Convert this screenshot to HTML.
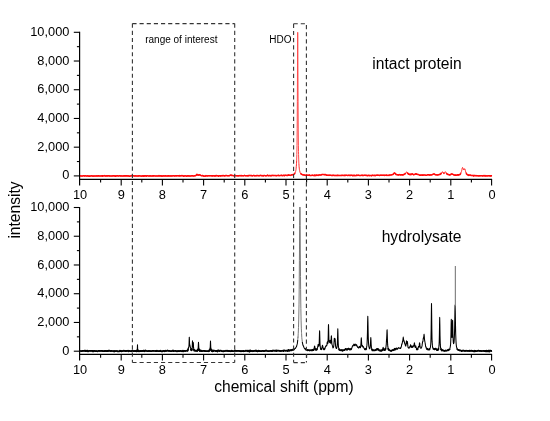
<!DOCTYPE html>
<html><head><meta charset="utf-8"><title>NMR spectra</title>
<style>
html,body{margin:0;padding:0;background:#fff;}
body{width:550px;height:421px;overflow:hidden;}
svg{display:block;}
text{font-family:"Liberation Sans",Arial,sans-serif;fill:#000;}
.tl{font-size:12.8px;}
.lb{font-size:15.6px;}
.sm{font-size:10px;}
.ax{stroke:#000;stroke-width:1.2;fill:none;}
.tk{stroke:#000;stroke-width:1.1;fill:none;}
.ds{stroke:#353535;stroke-width:1.1;stroke-dasharray:4.15 3.0;fill:none;}
.sp{fill:none;stroke-linejoin:round;}
</style></head>
<body>
<svg width="550" height="421" viewBox="0 0 550 421">
<rect width="550" height="421" fill="#fff"/>
<line x1="79.6" y1="31.80" x2="79.6" y2="185.40" class="ax"/>
<line x1="79.0" y1="179.30" x2="492.10" y2="179.30" class="ax"/>
<line x1="73.8" y1="175.90" x2="79.6" y2="175.90" class="tk"/>
<text x="69.4" y="179.45" class="tl" text-anchor="end">0</text>
<line x1="76.9" y1="161.54" x2="79.6" y2="161.54" class="tk"/>
<line x1="73.8" y1="147.18" x2="79.6" y2="147.18" class="tk"/>
<text x="69.4" y="150.73" class="tl" text-anchor="end">2,000</text>
<line x1="76.9" y1="132.82" x2="79.6" y2="132.82" class="tk"/>
<line x1="73.8" y1="118.46" x2="79.6" y2="118.46" class="tk"/>
<text x="69.4" y="122.01" class="tl" text-anchor="end">4,000</text>
<line x1="76.9" y1="104.10" x2="79.6" y2="104.10" class="tk"/>
<line x1="73.8" y1="89.74" x2="79.6" y2="89.74" class="tk"/>
<text x="69.4" y="93.29" class="tl" text-anchor="end">6,000</text>
<line x1="76.9" y1="75.38" x2="79.6" y2="75.38" class="tk"/>
<line x1="73.8" y1="61.02" x2="79.6" y2="61.02" class="tk"/>
<text x="69.4" y="64.57" class="tl" text-anchor="end">8,000</text>
<line x1="76.9" y1="46.66" x2="79.6" y2="46.66" class="tk"/>
<line x1="73.8" y1="32.30" x2="79.6" y2="32.30" class="tk"/>
<text x="69.4" y="35.85" class="tl" text-anchor="end">10,000</text>
<line x1="491.60" y1="179.30" x2="491.60" y2="185.40" class="tk"/>
<text x="492.00" y="199.30" class="tl" text-anchor="middle">0</text>
<line x1="471.40" y1="179.30" x2="471.40" y2="182.60" class="tk"/>
<line x1="450.80" y1="179.30" x2="450.80" y2="185.40" class="tk"/>
<text x="450.80" y="199.30" class="tl" text-anchor="middle">1</text>
<line x1="430.20" y1="179.30" x2="430.20" y2="182.60" class="tk"/>
<line x1="409.60" y1="179.30" x2="409.60" y2="185.40" class="tk"/>
<text x="409.60" y="199.30" class="tl" text-anchor="middle">2</text>
<line x1="389.00" y1="179.30" x2="389.00" y2="182.60" class="tk"/>
<line x1="368.40" y1="179.30" x2="368.40" y2="185.40" class="tk"/>
<text x="368.40" y="199.30" class="tl" text-anchor="middle">3</text>
<line x1="347.80" y1="179.30" x2="347.80" y2="182.60" class="tk"/>
<line x1="327.20" y1="179.30" x2="327.20" y2="185.40" class="tk"/>
<text x="327.20" y="199.30" class="tl" text-anchor="middle">4</text>
<line x1="306.60" y1="179.30" x2="306.60" y2="182.60" class="tk"/>
<line x1="286.00" y1="179.30" x2="286.00" y2="185.40" class="tk"/>
<text x="286.00" y="199.30" class="tl" text-anchor="middle">5</text>
<line x1="265.40" y1="179.30" x2="265.40" y2="182.60" class="tk"/>
<line x1="244.80" y1="179.30" x2="244.80" y2="185.40" class="tk"/>
<text x="244.80" y="199.30" class="tl" text-anchor="middle">6</text>
<line x1="224.20" y1="179.30" x2="224.20" y2="182.60" class="tk"/>
<line x1="203.60" y1="179.30" x2="203.60" y2="185.40" class="tk"/>
<text x="203.60" y="199.30" class="tl" text-anchor="middle">7</text>
<line x1="183.00" y1="179.30" x2="183.00" y2="182.60" class="tk"/>
<line x1="162.40" y1="179.30" x2="162.40" y2="185.40" class="tk"/>
<text x="162.40" y="199.30" class="tl" text-anchor="middle">8</text>
<line x1="141.80" y1="179.30" x2="141.80" y2="182.60" class="tk"/>
<line x1="121.20" y1="179.30" x2="121.20" y2="185.40" class="tk"/>
<text x="121.20" y="199.30" class="tl" text-anchor="middle">9</text>
<line x1="100.60" y1="179.30" x2="100.60" y2="182.60" class="tk"/>
<text x="80.00" y="199.30" class="tl" text-anchor="middle">10</text>
<line x1="79.6" y1="207.00" x2="79.6" y2="360.50" class="ax"/>
<line x1="79.0" y1="354.40" x2="492.10" y2="354.40" class="ax"/>
<line x1="73.8" y1="351.20" x2="79.6" y2="351.20" class="tk"/>
<text x="69.4" y="354.75" class="tl" text-anchor="end">0</text>
<line x1="76.9" y1="336.83" x2="79.6" y2="336.83" class="tk"/>
<line x1="73.8" y1="322.46" x2="79.6" y2="322.46" class="tk"/>
<text x="69.4" y="326.01" class="tl" text-anchor="end">2,000</text>
<line x1="76.9" y1="308.09" x2="79.6" y2="308.09" class="tk"/>
<line x1="73.8" y1="293.72" x2="79.6" y2="293.72" class="tk"/>
<text x="69.4" y="297.27" class="tl" text-anchor="end">4,000</text>
<line x1="76.9" y1="279.35" x2="79.6" y2="279.35" class="tk"/>
<line x1="73.8" y1="264.98" x2="79.6" y2="264.98" class="tk"/>
<text x="69.4" y="268.53" class="tl" text-anchor="end">6,000</text>
<line x1="76.9" y1="250.61" x2="79.6" y2="250.61" class="tk"/>
<line x1="73.8" y1="236.24" x2="79.6" y2="236.24" class="tk"/>
<text x="69.4" y="239.79" class="tl" text-anchor="end">8,000</text>
<line x1="76.9" y1="221.87" x2="79.6" y2="221.87" class="tk"/>
<line x1="73.8" y1="207.50" x2="79.6" y2="207.50" class="tk"/>
<text x="69.4" y="211.05" class="tl" text-anchor="end">10,000</text>
<line x1="491.60" y1="354.40" x2="491.60" y2="360.50" class="tk"/>
<text x="492.00" y="374.40" class="tl" text-anchor="middle">0</text>
<line x1="471.40" y1="354.40" x2="471.40" y2="357.70" class="tk"/>
<line x1="450.80" y1="354.40" x2="450.80" y2="360.50" class="tk"/>
<text x="450.80" y="374.40" class="tl" text-anchor="middle">1</text>
<line x1="430.20" y1="354.40" x2="430.20" y2="357.70" class="tk"/>
<line x1="409.60" y1="354.40" x2="409.60" y2="360.50" class="tk"/>
<text x="409.60" y="374.40" class="tl" text-anchor="middle">2</text>
<line x1="389.00" y1="354.40" x2="389.00" y2="357.70" class="tk"/>
<line x1="368.40" y1="354.40" x2="368.40" y2="360.50" class="tk"/>
<text x="368.40" y="374.40" class="tl" text-anchor="middle">3</text>
<line x1="347.80" y1="354.40" x2="347.80" y2="357.70" class="tk"/>
<line x1="327.20" y1="354.40" x2="327.20" y2="360.50" class="tk"/>
<text x="327.20" y="374.40" class="tl" text-anchor="middle">4</text>
<line x1="306.60" y1="354.40" x2="306.60" y2="357.70" class="tk"/>
<line x1="286.00" y1="354.40" x2="286.00" y2="360.50" class="tk"/>
<text x="286.00" y="374.40" class="tl" text-anchor="middle">5</text>
<line x1="265.40" y1="354.40" x2="265.40" y2="357.70" class="tk"/>
<line x1="244.80" y1="354.40" x2="244.80" y2="360.50" class="tk"/>
<text x="244.80" y="374.40" class="tl" text-anchor="middle">6</text>
<line x1="224.20" y1="354.40" x2="224.20" y2="357.70" class="tk"/>
<line x1="203.60" y1="354.40" x2="203.60" y2="360.50" class="tk"/>
<text x="203.60" y="374.40" class="tl" text-anchor="middle">7</text>
<line x1="183.00" y1="354.40" x2="183.00" y2="357.70" class="tk"/>
<line x1="162.40" y1="354.40" x2="162.40" y2="360.50" class="tk"/>
<text x="162.40" y="374.40" class="tl" text-anchor="middle">8</text>
<line x1="141.80" y1="354.40" x2="141.80" y2="357.70" class="tk"/>
<line x1="121.20" y1="354.40" x2="121.20" y2="360.50" class="tk"/>
<text x="121.20" y="374.40" class="tl" text-anchor="middle">9</text>
<line x1="100.60" y1="354.40" x2="100.60" y2="357.70" class="tk"/>
<text x="80.00" y="374.40" class="tl" text-anchor="middle">10</text>
<path class="sp" stroke="#ff0000" stroke-width="1.5" d="M80.00,175.90 L80.50,175.85 L81.00,175.94 L81.50,176.04 L82.00,175.97 L82.50,176.06 L83.00,175.89 L83.50,175.68 L84.00,175.98 L84.50,176.00 L85.00,175.82 L85.50,175.84 L86.00,175.88 L86.50,176.05 L87.00,175.90 L87.50,175.79 L88.00,176.11 L88.50,175.97 L89.00,176.20 L89.50,176.11 L90.00,176.19 L90.50,175.94 L91.00,176.10 L91.50,175.86 L92.00,175.87 L92.50,175.93 L93.00,176.30 L93.50,175.98 L94.00,175.91 L94.50,175.88 L95.00,176.14 L95.50,175.98 L96.00,176.06 L96.50,176.03 L97.00,175.73 L97.50,176.03 L98.00,175.90 L98.50,175.76 L99.00,175.99 L99.50,175.92 L100.00,175.88 L100.50,175.89 L101.00,176.09 L101.50,175.89 L102.00,175.68 L102.50,176.15 L103.00,175.76 L103.50,175.88 L104.00,176.00 L104.50,175.58 L105.00,175.78 L105.50,176.09 L106.00,175.89 L106.50,175.81 L107.00,175.93 L107.50,175.79 L108.00,175.91 L108.50,175.79 L109.00,175.67 L109.50,176.01 L110.00,175.87 L110.50,175.97 L111.00,175.88 L111.50,176.09 L112.00,175.99 L112.50,175.93 L113.00,175.75 L113.50,175.71 L114.00,176.11 L114.50,176.03 L115.00,175.79 L115.50,176.22 L116.00,175.97 L116.50,175.91 L117.00,175.70 L117.50,175.79 L118.00,175.95 L118.50,175.96 L119.00,175.94 L119.50,175.65 L120.00,175.97 L120.50,175.95 L121.00,175.84 L121.50,175.92 L122.00,175.93 L122.50,176.08 L123.00,175.90 L123.50,175.97 L124.00,175.71 L124.50,175.79 L125.00,175.90 L125.50,175.79 L126.00,175.95 L126.50,175.73 L127.00,175.90 L127.50,175.80 L128.00,176.10 L128.50,175.84 L129.00,176.17 L129.50,176.22 L130.00,175.95 L130.50,176.04 L131.00,175.87 L131.50,175.54 L132.00,176.03 L132.50,176.00 L133.00,175.86 L133.50,175.82 L134.00,175.92 L134.50,175.93 L135.00,175.78 L135.50,175.81 L136.00,176.06 L136.50,175.91 L137.00,175.89 L137.50,176.06 L138.00,175.85 L138.50,176.03 L139.00,175.74 L139.50,175.86 L140.00,175.88 L140.50,175.99 L141.00,175.91 L141.50,176.21 L142.00,176.08 L142.50,175.84 L143.00,176.23 L143.50,175.76 L144.00,176.17 L144.50,175.77 L145.00,176.03 L145.50,175.77 L146.00,175.87 L146.50,176.14 L147.00,175.69 L147.50,175.66 L148.00,175.90 L148.50,175.94 L149.00,175.92 L149.50,176.05 L150.00,175.72 L150.50,175.98 L151.00,175.90 L151.50,176.02 L152.00,175.99 L152.50,176.10 L153.00,175.69 L153.50,175.92 L154.00,175.74 L154.50,175.89 L155.00,176.00 L155.50,175.94 L156.00,175.98 L156.50,175.89 L157.00,175.95 L157.50,175.94 L158.00,176.11 L158.50,176.02 L159.00,175.62 L159.50,176.00 L160.00,176.06 L160.50,175.83 L161.00,175.66 L161.50,176.12 L162.00,175.92 L162.50,175.99 L163.00,176.17 L163.50,175.77 L164.00,175.89 L164.50,175.87 L165.00,176.01 L165.50,175.81 L166.00,175.97 L166.50,175.91 L167.00,176.06 L167.50,176.08 L168.00,175.67 L168.50,175.96 L169.00,175.84 L169.50,175.89 L170.00,175.95 L170.50,175.96 L171.00,175.78 L171.50,175.93 L172.00,175.90 L172.50,175.88 L173.00,175.69 L173.50,175.77 L174.00,175.82 L174.50,175.97 L175.00,176.10 L175.50,175.72 L176.00,175.72 L176.50,175.90 L177.00,175.79 L177.50,175.75 L178.00,175.74 L178.50,175.73 L179.00,175.95 L179.50,175.63 L180.00,176.07 L180.50,175.73 L181.00,175.79 L181.50,175.73 L182.00,175.57 L182.50,175.63 L183.00,176.05 L183.50,176.14 L184.00,175.73 L184.50,176.03 L185.00,175.86 L185.50,175.73 L186.00,176.12 L186.50,176.20 L187.00,175.81 L187.50,175.85 L188.00,175.89 L188.50,175.84 L189.00,175.99 L189.50,176.09 L190.00,175.87 L190.50,175.99 L191.00,176.10 L191.50,175.75 L192.00,175.83 L192.50,175.75 L193.00,175.96 L193.50,175.89 L194.00,175.92 L194.50,175.86 L195.00,175.63 L195.50,175.68 L196.00,175.29 L196.50,174.90 L197.00,174.28 L197.50,175.09 L198.00,175.01 L198.50,175.17 L199.00,174.87 L199.50,174.83 L200.00,175.02 L200.50,175.23 L201.00,175.56 L201.50,175.64 L202.00,175.76 L202.50,175.56 L203.00,175.77 L203.50,176.13 L204.00,175.90 L204.50,176.11 L205.00,176.32 L205.50,175.89 L206.00,175.60 L206.50,175.81 L207.00,176.00 L207.50,175.97 L208.00,175.64 L208.50,175.79 L209.00,175.81 L209.50,175.83 L210.00,175.81 L210.50,175.69 L211.00,175.73 L211.50,175.78 L212.00,175.98 L212.50,175.73 L213.00,175.92 L213.50,175.64 L214.00,176.02 L214.50,175.83 L215.00,175.81 L215.50,176.02 L216.00,175.53 L216.50,175.57 L217.00,175.88 L217.50,175.68 L218.00,175.74 L218.50,176.22 L219.00,175.76 L219.50,175.81 L220.00,175.78 L220.50,175.97 L221.00,175.84 L221.50,175.82 L222.00,175.60 L222.50,175.73 L223.00,175.79 L223.50,175.54 L224.00,175.87 L224.50,175.84 L225.00,176.07 L225.50,175.52 L226.00,175.62 L226.50,175.62 L227.00,175.65 L227.50,175.73 L228.00,175.71 L228.50,175.77 L229.00,175.73 L229.50,175.64 L230.00,175.30 L230.50,175.17 L231.00,174.91 L231.50,175.35 L232.00,175.63 L232.50,175.38 L233.00,175.60 L233.50,175.70 L234.00,175.78 L234.50,175.90 L235.00,175.74 L235.50,175.59 L236.00,175.80 L236.50,175.77 L237.00,175.77 L237.50,175.71 L238.00,175.99 L238.50,175.77 L239.00,175.87 L239.50,175.59 L240.00,175.85 L240.50,175.63 L241.00,175.48 L241.50,175.77 L242.00,175.81 L242.50,175.69 L243.00,175.71 L243.50,175.87 L244.00,175.64 L244.50,175.39 L245.00,175.75 L245.50,175.74 L246.00,175.87 L246.50,175.65 L247.00,175.90 L247.50,175.87 L248.00,175.49 L248.50,175.83 L249.00,175.51 L249.50,175.44 L250.00,175.64 L250.50,175.59 L251.00,175.37 L251.50,175.71 L252.00,175.77 L252.50,175.89 L253.00,175.66 L253.50,175.43 L254.00,175.51 L254.50,175.81 L255.00,175.79 L255.50,175.74 L256.00,175.61 L256.50,175.68 L257.00,175.61 L257.50,175.60 L258.00,175.69 L258.50,175.65 L259.00,175.60 L259.50,175.65 L260.00,175.55 L260.50,175.33 L261.00,175.53 L261.50,175.61 L262.00,175.89 L262.50,175.55 L263.00,175.92 L263.50,175.84 L264.00,175.47 L264.50,175.49 L265.00,175.62 L265.50,175.87 L266.00,175.65 L266.50,175.70 L267.00,175.49 L267.50,175.22 L268.00,175.55 L268.50,175.70 L269.00,175.76 L269.50,175.58 L270.00,175.60 L270.50,175.75 L271.00,175.54 L271.50,175.74 L272.00,175.38 L272.50,175.38 L273.00,175.37 L273.50,175.62 L274.00,175.46 L274.50,175.56 L275.00,175.59 L275.50,175.58 L276.00,175.73 L276.50,175.75 L277.00,175.39 L277.50,175.54 L278.00,175.47 L278.50,175.34 L279.00,175.77 L279.50,175.61 L280.00,175.45 L280.50,175.41 L281.00,175.53 L281.50,175.30 L282.00,175.42 L282.50,175.64 L283.00,175.59 L283.50,175.30 L284.00,175.35 L284.50,175.72 L285.00,175.19 L285.50,175.29 L286.00,175.16 L286.50,175.42 L287.00,175.39 L287.50,175.51 L288.00,174.90 L288.50,175.31 L289.00,175.00 L289.50,175.32 L290.00,175.15 L290.50,175.40 L291.00,175.14 L291.50,174.85 L292.00,175.11 L292.50,174.63 L293.00,174.59 L293.50,174.60 L294.00,174.21 L294.50,173.75 L295.00,172.97 M300.50,173.29 L301.00,173.87 L301.50,174.34 L302.00,174.38 L302.50,174.76 L303.00,174.89 L303.50,174.79 L304.00,175.08 L304.50,174.95 L305.00,175.23 L305.50,175.31 L306.00,175.44 L306.50,174.88 L307.00,175.25 L307.50,175.17 L308.00,175.23 L308.50,175.22 L309.00,175.24 L309.50,174.95 L310.00,175.43 L310.50,175.52 L311.00,175.44 L311.50,175.49 L312.00,175.16 L312.50,175.15 L313.00,175.43 L313.50,175.50 L314.00,175.33 L314.50,175.05 L315.00,175.72 L315.50,175.17 L316.00,175.42 L316.50,175.07 L317.00,175.39 L317.50,175.24 L318.00,175.41 L318.50,175.29 L319.00,174.87 L319.50,174.91 L320.00,175.03 L320.50,175.02 L321.00,175.08 L321.50,174.72 L322.00,174.54 L322.50,174.45 L323.00,174.42 L323.50,174.62 L324.00,174.55 L324.50,174.66 L325.00,174.57 L325.50,174.59 L326.00,175.00 L326.50,175.17 L327.00,175.11 L327.50,175.24 L328.00,175.30 L328.50,175.22 L329.00,175.40 L329.50,175.15 L330.00,175.28 L330.50,175.24 L331.00,175.32 L331.50,175.42 L332.00,175.46 L332.50,175.35 L333.00,175.41 L333.50,175.29 L334.00,175.33 L334.50,175.56 L335.00,175.33 L335.50,175.56 L336.00,175.45 L336.50,175.40 L337.00,175.69 L337.50,175.34 L338.00,175.34 L338.50,175.39 L339.00,175.43 L339.50,175.43 L340.00,175.52 L340.50,175.41 L341.00,175.46 L341.50,175.36 L342.00,175.57 L342.50,175.34 L343.00,175.35 L343.50,175.40 L344.00,175.45 L344.50,175.29 L345.00,175.65 L345.50,175.31 L346.00,175.35 L346.50,175.34 L347.00,175.33 L347.50,175.49 L348.00,175.43 L348.50,175.29 L349.00,175.32 L349.50,175.36 L350.00,175.64 L350.50,175.31 L351.00,175.21 L351.50,175.23 L352.00,175.36 L352.50,175.65 L353.00,175.25 L353.50,175.42 L354.00,175.81 L354.50,175.34 L355.00,175.64 L355.50,175.61 L356.00,175.50 L356.50,175.20 L357.00,175.46 L357.50,175.36 L358.00,175.13 L358.50,175.15 L359.00,175.42 L359.50,175.44 L360.00,175.61 L360.50,175.52 L361.00,175.34 L361.50,175.34 L362.00,175.39 L362.50,175.25 L363.00,175.53 L363.50,175.42 L364.00,175.29 L364.50,175.31 L365.00,175.23 L365.50,175.34 L366.00,175.45 L366.50,175.35 L367.00,175.56 L367.50,175.67 L368.00,175.31 L368.50,175.41 L369.00,175.35 L369.50,175.67 L370.00,175.46 L370.50,175.49 L371.00,175.53 L371.50,175.75 L372.00,175.44 L372.50,175.25 L373.00,175.33 L373.50,175.48 L374.00,175.39 L374.50,175.26 L375.00,175.82 L375.50,175.40 L376.00,175.29 L376.50,175.26 L377.00,175.10 L377.50,175.18 L378.00,175.31 L378.50,175.31 L379.00,175.23 L379.50,175.44 L380.00,175.35 L380.50,175.20 L381.00,175.02 L381.50,175.36 L382.00,175.33 L382.50,175.29 L383.00,175.10 L383.50,175.31 L384.00,175.07 L384.50,175.45 L385.00,175.32 L385.50,175.31 L386.00,175.14 L386.50,175.09 L387.00,175.49 L387.50,175.38 L388.00,175.16 L388.50,175.31 L389.00,175.42 L389.50,174.99 L390.00,175.04 L390.50,175.00 L391.00,175.09 L391.50,174.77 L392.00,174.85 L392.50,174.45 L393.00,174.48 L393.50,174.00 L394.00,173.22 L394.50,173.01 L395.00,173.13 L395.50,173.79 L396.00,174.43 L396.50,174.55 L397.00,174.79 L397.50,174.69 L398.00,175.00 L398.50,175.01 L399.00,174.77 L399.50,174.61 L400.00,174.65 L400.50,174.96 L401.00,174.92 L401.50,174.68 L401.90,174.92 L402.00,175.05 L402.28,174.85 L402.50,174.77 L402.67,174.95 L403.00,175.03 L403.05,174.99 L403.43,174.57 L403.50,174.78 L403.82,174.59 L404.00,174.47 L404.20,174.32 L404.50,174.31 L404.58,174.12 L404.97,174.03 L405.00,173.91 L405.35,173.60 L405.50,173.03 M407.27,172.97 L407.50,173.24 L407.65,172.98 L408.00,173.64 L408.03,173.84 L408.42,174.01 L408.50,173.84 L408.80,174.35 L409.00,174.44 L409.18,174.24 L409.50,174.42 L409.57,174.40 L409.95,174.61 L410.00,174.23 L410.33,174.24 L410.50,174.40 L410.72,174.34 L411.00,174.67 L411.10,174.20 L411.50,174.11 L412.00,173.83 L412.50,173.97 L413.00,174.40 L413.50,174.74 L414.00,174.43 L414.50,174.51 L415.00,174.23 L415.50,173.97 L416.00,173.75 L416.50,174.28 L417.00,174.06 L417.50,174.48 L418.00,174.51 L418.50,174.48 L419.00,174.86 L419.50,175.20 L420.00,175.09 L420.50,175.17 L421.00,175.07 L421.50,174.99 L422.00,175.34 L422.50,174.97 L423.00,175.28 L423.50,175.00 L424.00,175.07 L424.50,175.10 L425.00,175.07 L425.50,175.15 L426.00,175.16 L426.50,175.33 L427.00,175.07 L427.50,174.77 L428.00,174.74 L428.50,174.84 L429.00,174.93 L429.50,175.14 L430.00,174.77 L430.50,174.98 L431.00,174.93 L431.50,174.88 L432.00,174.68 L432.50,174.54 L433.00,174.16 L433.50,174.08 L434.00,174.08 L434.50,173.97 L435.00,174.61 L435.50,174.79 L436.00,174.76 L436.50,174.78 L437.00,175.09 L437.50,174.94 L438.00,174.73 L438.50,174.79 L439.00,174.73 L439.50,174.37 L440.00,174.53 L440.50,174.10 L440.90,173.82 L441.00,173.38 L441.28,173.56 L441.50,173.03 M443.58,173.12 L443.97,173.37 L444.00,173.09 L444.35,173.11 M446.27,172.98 L446.50,173.43 L446.65,173.40 L447.00,174.00 L447.03,174.25 L447.42,174.15 L447.50,174.33 L447.80,174.42 L448.00,174.55 L448.18,174.53 L448.50,174.70 L448.57,174.53 L448.95,174.71 L449.00,174.72 L449.33,174.73 L449.50,175.03 L449.72,174.80 L450.00,174.78 L450.10,174.68 L450.50,174.80 L451.00,174.04 L451.50,173.90 L452.00,173.89 L452.50,174.22 L453.00,174.42 L453.50,174.72 L454.00,175.02 L454.50,175.01 L455.00,175.20 L455.50,175.05 L456.00,175.26 L456.50,175.15 L457.00,174.96 L457.50,174.67 L458.00,175.17 L458.20,175.05 L458.50,175.05 L458.56,174.77 L458.92,174.98 L459.00,174.84 L459.27,174.66 L459.50,174.70 L459.63,174.62 L459.99,174.29 L460.00,174.55 L460.35,174.09 L460.40,173.87 L460.50,173.65 L460.71,173.39 L460.76,173.56 M466.00,172.98 L466.08,173.04 L466.13,173.06 L466.44,173.56 L466.49,173.82 L466.50,173.71 L466.80,174.18 L466.85,174.17 L467.00,174.35 L467.21,174.68 L467.50,174.69 L467.57,174.59 L467.93,175.06 L468.00,174.97 L468.28,174.93 L468.50,175.27 L468.64,175.11 L469.00,175.40 L469.50,175.14 L470.00,175.02 L470.50,175.13 L471.00,175.53 L471.50,175.42 L472.00,175.55 L472.50,175.58 L473.00,175.37 L473.50,175.85 L474.00,175.49 L474.50,175.68 L475.00,175.46 L475.50,175.67 L476.00,175.82 L476.50,175.68 L477.00,175.61 L477.50,175.74 L478.00,175.67 L478.50,175.84 L479.00,176.10 L479.50,175.63 L480.00,175.66 L480.50,175.76 L481.00,175.78 L481.50,175.63 L482.00,175.87 L482.50,175.91 L483.00,175.83 L483.50,175.62 L484.00,176.03 L484.50,175.62 L485.00,175.92 L485.50,176.00 L486.00,175.62 L486.50,175.84 L487.00,176.04 L487.50,175.89 L488.00,175.69 L488.50,175.65 L489.00,175.91 L489.50,175.78 L490.00,175.73 L490.50,175.95 L491.00,175.79 L491.50,175.85 L492.00,175.94"/>
<polyline class="sp" stroke="#ff1010" stroke-width="0.9" points="80.00,175.90 80.50,175.85 81.00,175.94 81.50,176.04 82.00,175.97 82.50,176.06 83.00,175.89 83.50,175.68 84.00,175.98 84.50,176.00 85.00,175.82 85.50,175.84 86.00,175.88 86.50,176.05 87.00,175.90 87.50,175.79 88.00,176.11 88.50,175.97 89.00,176.20 89.50,176.11 90.00,176.19 90.50,175.94 91.00,176.10 91.50,175.86 92.00,175.87 92.50,175.93 93.00,176.30 93.50,175.98 94.00,175.91 94.50,175.88 95.00,176.14 95.50,175.98 96.00,176.06 96.50,176.03 97.00,175.73 97.50,176.03 98.00,175.90 98.50,175.76 99.00,175.99 99.50,175.92 100.00,175.88 100.50,175.89 101.00,176.09 101.50,175.89 102.00,175.68 102.50,176.15 103.00,175.76 103.50,175.88 104.00,176.00 104.50,175.58 105.00,175.78 105.50,176.09 106.00,175.89 106.50,175.81 107.00,175.93 107.50,175.79 108.00,175.91 108.50,175.79 109.00,175.67 109.50,176.01 110.00,175.87 110.50,175.97 111.00,175.88 111.50,176.09 112.00,175.99 112.50,175.93 113.00,175.75 113.50,175.71 114.00,176.11 114.50,176.03 115.00,175.79 115.50,176.22 116.00,175.97 116.50,175.91 117.00,175.70 117.50,175.79 118.00,175.95 118.50,175.96 119.00,175.94 119.50,175.65 120.00,175.97 120.50,175.95 121.00,175.84 121.50,175.92 122.00,175.93 122.50,176.08 123.00,175.90 123.50,175.97 124.00,175.71 124.50,175.79 125.00,175.90 125.50,175.79 126.00,175.95 126.50,175.73 127.00,175.90 127.50,175.80 128.00,176.10 128.50,175.84 129.00,176.17 129.50,176.22 130.00,175.95 130.50,176.04 131.00,175.87 131.50,175.54 132.00,176.03 132.50,176.00 133.00,175.86 133.50,175.82 134.00,175.92 134.50,175.93 135.00,175.78 135.50,175.81 136.00,176.06 136.50,175.91 137.00,175.89 137.50,176.06 138.00,175.85 138.50,176.03 139.00,175.74 139.50,175.86 140.00,175.88 140.50,175.99 141.00,175.91 141.50,176.21 142.00,176.08 142.50,175.84 143.00,176.23 143.50,175.76 144.00,176.17 144.50,175.77 145.00,176.03 145.50,175.77 146.00,175.87 146.50,176.14 147.00,175.69 147.50,175.66 148.00,175.90 148.50,175.94 149.00,175.92 149.50,176.05 150.00,175.72 150.50,175.98 151.00,175.90 151.50,176.02 152.00,175.99 152.50,176.10 153.00,175.69 153.50,175.92 154.00,175.74 154.50,175.89 155.00,176.00 155.50,175.94 156.00,175.98 156.50,175.89 157.00,175.95 157.50,175.94 158.00,176.11 158.50,176.02 159.00,175.62 159.50,176.00 160.00,176.06 160.50,175.83 161.00,175.66 161.50,176.12 162.00,175.92 162.50,175.99 163.00,176.17 163.50,175.77 164.00,175.89 164.50,175.87 165.00,176.01 165.50,175.81 166.00,175.97 166.50,175.91 167.00,176.06 167.50,176.08 168.00,175.67 168.50,175.96 169.00,175.84 169.50,175.89 170.00,175.95 170.50,175.96 171.00,175.78 171.50,175.93 172.00,175.90 172.50,175.88 173.00,175.69 173.50,175.77 174.00,175.82 174.50,175.97 175.00,176.10 175.50,175.72 176.00,175.72 176.50,175.90 177.00,175.79 177.50,175.75 178.00,175.74 178.50,175.73 179.00,175.95 179.50,175.63 180.00,176.07 180.50,175.73 181.00,175.79 181.50,175.73 182.00,175.57 182.50,175.63 183.00,176.05 183.50,176.14 184.00,175.73 184.50,176.03 185.00,175.86 185.50,175.73 186.00,176.12 186.50,176.20 187.00,175.81 187.50,175.85 188.00,175.89 188.50,175.84 189.00,175.99 189.50,176.09 190.00,175.87 190.50,175.99 191.00,176.10 191.50,175.75 192.00,175.83 192.50,175.75 193.00,175.96 193.50,175.89 194.00,175.92 194.50,175.86 195.00,175.63 195.50,175.68 196.00,175.29 196.50,174.90 197.00,174.28 197.50,175.09 198.00,175.01 198.50,175.17 199.00,174.87 199.50,174.83 200.00,175.02 200.50,175.23 201.00,175.56 201.50,175.64 202.00,175.76 202.50,175.56 203.00,175.77 203.50,176.13 204.00,175.90 204.50,176.11 205.00,176.32 205.50,175.89 206.00,175.60 206.50,175.81 207.00,176.00 207.50,175.97 208.00,175.64 208.50,175.79 209.00,175.81 209.50,175.83 210.00,175.81 210.50,175.69 211.00,175.73 211.50,175.78 212.00,175.98 212.50,175.73 213.00,175.92 213.50,175.64 214.00,176.02 214.50,175.83 215.00,175.81 215.50,176.02 216.00,175.53 216.50,175.57 217.00,175.88 217.50,175.68 218.00,175.74 218.50,176.22 219.00,175.76 219.50,175.81 220.00,175.78 220.50,175.97 221.00,175.84 221.50,175.82 222.00,175.60 222.50,175.73 223.00,175.79 223.50,175.54 224.00,175.87 224.50,175.84 225.00,176.07 225.50,175.52 226.00,175.62 226.50,175.62 227.00,175.65 227.50,175.73 228.00,175.71 228.50,175.77 229.00,175.73 229.50,175.64 230.00,175.30 230.50,175.17 231.00,174.91 231.50,175.35 232.00,175.63 232.50,175.38 233.00,175.60 233.50,175.70 234.00,175.78 234.50,175.90 235.00,175.74 235.50,175.59 236.00,175.80 236.50,175.77 237.00,175.77 237.50,175.71 238.00,175.99 238.50,175.77 239.00,175.87 239.50,175.59 240.00,175.85 240.50,175.63 241.00,175.48 241.50,175.77 242.00,175.81 242.50,175.69 243.00,175.71 243.50,175.87 244.00,175.64 244.50,175.39 245.00,175.75 245.50,175.74 246.00,175.87 246.50,175.65 247.00,175.90 247.50,175.87 248.00,175.49 248.50,175.83 249.00,175.51 249.50,175.44 250.00,175.64 250.50,175.59 251.00,175.37 251.50,175.71 252.00,175.77 252.50,175.89 253.00,175.66 253.50,175.43 254.00,175.51 254.50,175.81 255.00,175.79 255.50,175.74 256.00,175.61 256.50,175.68 257.00,175.61 257.50,175.60 258.00,175.69 258.50,175.65 259.00,175.60 259.50,175.65 260.00,175.55 260.50,175.33 261.00,175.53 261.50,175.61 262.00,175.89 262.50,175.55 263.00,175.92 263.50,175.84 264.00,175.47 264.50,175.49 265.00,175.62 265.50,175.87 266.00,175.65 266.50,175.70 267.00,175.49 267.50,175.22 268.00,175.55 268.50,175.70 269.00,175.76 269.50,175.58 270.00,175.60 270.50,175.75 271.00,175.54 271.50,175.74 272.00,175.38 272.50,175.38 273.00,175.37 273.50,175.62 274.00,175.46 274.50,175.56 275.00,175.59 275.50,175.58 276.00,175.73 276.50,175.75 277.00,175.39 277.50,175.54 278.00,175.47 278.50,175.34 279.00,175.77 279.50,175.61 280.00,175.45 280.50,175.41 281.00,175.53 281.50,175.30 282.00,175.42 282.50,175.64 283.00,175.59 283.50,175.30 284.00,175.35 284.50,175.72 285.00,175.19 285.50,175.29 286.00,175.16 286.50,175.42 287.00,175.39 287.50,175.51 288.00,174.90 288.50,175.31 289.00,175.00 289.50,175.32 290.00,175.15 290.50,175.40 291.00,175.14 291.50,174.85 292.00,175.11 292.50,174.63 293.00,174.59 293.50,174.60 294.00,174.21 294.50,173.75 295.00,172.97 295.50,171.82 295.62,171.43 295.79,170.58 295.97,169.70 296.00,169.52 296.14,168.23 296.31,166.28 296.49,164.11 296.50,163.63 296.66,160.24"/>
<polyline class="sp" stroke="#ff1010" stroke-width="0.9" points="298.91,164.00 299.00,165.25 299.09,166.68 299.26,168.10 299.43,169.69 299.50,170.23 299.61,170.53 299.78,171.10 300.00,172.26 300.50,173.29 301.00,173.87 301.50,174.34 302.00,174.38 302.50,174.76 303.00,174.89 303.50,174.79 304.00,175.08 304.50,174.95 305.00,175.23 305.50,175.31 306.00,175.44 306.50,174.88 307.00,175.25 307.50,175.17 308.00,175.23 308.50,175.22 309.00,175.24 309.50,174.95 310.00,175.43 310.50,175.52 311.00,175.44 311.50,175.49 312.00,175.16 312.50,175.15 313.00,175.43 313.50,175.50 314.00,175.33 314.50,175.05 315.00,175.72 315.50,175.17 316.00,175.42 316.50,175.07 317.00,175.39 317.50,175.24 318.00,175.41 318.50,175.29 319.00,174.87 319.50,174.91 320.00,175.03 320.50,175.02 321.00,175.08 321.50,174.72 322.00,174.54 322.50,174.45 323.00,174.42 323.50,174.62 324.00,174.55 324.50,174.66 325.00,174.57 325.50,174.59 326.00,175.00 326.50,175.17 327.00,175.11 327.50,175.24 328.00,175.30 328.50,175.22 329.00,175.40 329.50,175.15 330.00,175.28 330.50,175.24 331.00,175.32 331.50,175.42 332.00,175.46 332.50,175.35 333.00,175.41 333.50,175.29 334.00,175.33 334.50,175.56 335.00,175.33 335.50,175.56 336.00,175.45 336.50,175.40 337.00,175.69 337.50,175.34 338.00,175.34 338.50,175.39 339.00,175.43 339.50,175.43 340.00,175.52 340.50,175.41 341.00,175.46 341.50,175.36 342.00,175.57 342.50,175.34 343.00,175.35 343.50,175.40 344.00,175.45 344.50,175.29 345.00,175.65 345.50,175.31 346.00,175.35 346.50,175.34 347.00,175.33 347.50,175.49 348.00,175.43 348.50,175.29 349.00,175.32 349.50,175.36 350.00,175.64 350.50,175.31 351.00,175.21 351.50,175.23 352.00,175.36 352.50,175.65 353.00,175.25 353.50,175.42 354.00,175.81 354.50,175.34 355.00,175.64 355.50,175.61 356.00,175.50 356.50,175.20 357.00,175.46 357.50,175.36 358.00,175.13 358.50,175.15 359.00,175.42 359.50,175.44 360.00,175.61 360.50,175.52 361.00,175.34 361.50,175.34 362.00,175.39 362.50,175.25 363.00,175.53 363.50,175.42 364.00,175.29 364.50,175.31 365.00,175.23 365.50,175.34 366.00,175.45 366.50,175.35 367.00,175.56 367.50,175.67 368.00,175.31 368.50,175.41 369.00,175.35 369.50,175.67 370.00,175.46 370.50,175.49 371.00,175.53 371.50,175.75 372.00,175.44 372.50,175.25 373.00,175.33 373.50,175.48 374.00,175.39 374.50,175.26 375.00,175.82 375.50,175.40 376.00,175.29 376.50,175.26 377.00,175.10 377.50,175.18 378.00,175.31 378.50,175.31 379.00,175.23 379.50,175.44 380.00,175.35 380.50,175.20 381.00,175.02 381.50,175.36 382.00,175.33 382.50,175.29 383.00,175.10 383.50,175.31 384.00,175.07 384.50,175.45 385.00,175.32 385.50,175.31 386.00,175.14 386.50,175.09 387.00,175.49 387.50,175.38 388.00,175.16 388.50,175.31 389.00,175.42 389.50,174.99 390.00,175.04 390.50,175.00 391.00,175.09 391.50,174.77 392.00,174.85 392.50,174.45 393.00,174.48 393.50,174.00 394.00,173.22 394.50,173.01 395.00,173.13 395.50,173.79 396.00,174.43 396.50,174.55 397.00,174.79 397.50,174.69 398.00,175.00 398.50,175.01 399.00,174.77 399.50,174.61 400.00,174.65 400.50,174.96 401.00,174.92 401.50,174.68 401.90,174.92 402.00,175.05 402.28,174.85 402.50,174.77 402.67,174.95 403.00,175.03 403.05,174.99 403.43,174.57 403.50,174.78 403.82,174.59 404.00,174.47 404.20,174.32 404.50,174.31 404.58,174.12 404.97,174.03 405.00,173.91 405.35,173.60 405.50,173.03 405.73,172.84 406.00,172.50 406.12,172.26 406.50,171.94 406.88,172.07 407.00,172.61 407.27,172.97 407.50,173.24 407.65,172.98 408.00,173.64 408.03,173.84 408.42,174.01 408.50,173.84 408.80,174.35 409.00,174.44 409.18,174.24 409.50,174.42 409.57,174.40 409.95,174.61 410.00,174.23 410.33,174.24 410.50,174.40 410.72,174.34 411.00,174.67 411.10,174.20 411.50,174.11 412.00,173.83 412.50,173.97 413.00,174.40 413.50,174.74 414.00,174.43 414.50,174.51 415.00,174.23 415.50,173.97 416.00,173.75 416.50,174.28 417.00,174.06 417.50,174.48 418.00,174.51 418.50,174.48 419.00,174.86 419.50,175.20 420.00,175.09 420.50,175.17 421.00,175.07 421.50,174.99 422.00,175.34 422.50,174.97 423.00,175.28 423.50,175.00 424.00,175.07 424.50,175.10 425.00,175.07 425.50,175.15 426.00,175.16 426.50,175.33 427.00,175.07 427.50,174.77 428.00,174.74 428.50,174.84 429.00,174.93 429.50,175.14 430.00,174.77 430.50,174.98 431.00,174.93 431.50,174.88 432.00,174.68 432.50,174.54 433.00,174.16 433.50,174.08 434.00,174.08 434.50,173.97 435.00,174.61 435.50,174.79 436.00,174.76 436.50,174.78 437.00,175.09 437.50,174.94 438.00,174.73 438.50,174.79 439.00,174.73 439.50,174.37 440.00,174.53 440.50,174.10 440.90,173.82 441.00,173.38 441.28,173.56 441.50,173.03 441.67,172.74 442.00,172.09 442.05,172.05 442.43,171.78 442.50,172.28 442.82,172.15 443.00,172.52 443.20,172.79 443.50,172.84 443.58,173.12 443.97,173.37 444.00,173.09 444.35,173.11 444.50,172.84 444.73,172.41 445.00,172.08 445.12,171.74 445.50,171.83 445.88,172.41 446.00,172.48 446.27,172.98 446.50,173.43 446.65,173.40 447.00,174.00 447.03,174.25 447.42,174.15 447.50,174.33 447.80,174.42 448.00,174.55 448.18,174.53 448.50,174.70 448.57,174.53 448.95,174.71 449.00,174.72 449.33,174.73 449.50,175.03 449.72,174.80 450.00,174.78 450.10,174.68 450.50,174.80 451.00,174.04 451.50,173.90 452.00,173.89 452.50,174.22 453.00,174.42 453.50,174.72 454.00,175.02 454.50,175.01 455.00,175.20 455.50,175.05 456.00,175.26 456.50,175.15 457.00,174.96 457.50,174.67 458.00,175.17 458.20,175.05 458.50,175.05 458.56,174.77 458.92,174.98 459.00,174.84 459.27,174.66 459.50,174.70 459.63,174.62 459.99,174.29 460.00,174.55 460.35,174.09 460.40,173.87 460.50,173.65 460.71,173.39 460.76,173.56 461.00,172.86 461.07,172.50 461.12,172.41 461.43,171.59 461.48,171.54 461.50,171.20 461.78,170.24 461.83,170.11 462.00,169.31 462.14,168.36 462.19,168.37 462.50,167.51 462.55,167.75 462.86,167.87 462.91,168.24 463.00,168.40 463.22,168.53 463.27,168.91 463.50,169.52 463.57,169.53 463.62,169.49 463.93,169.29 463.98,169.52 464.00,169.70 464.29,169.09 464.34,168.98 464.50,168.83 464.65,168.65 464.70,168.85 465.00,169.41 465.01,169.74 465.06,169.59 465.37,170.52 465.42,170.92 465.50,171.31 465.73,172.07 465.77,171.96 466.00,172.98 466.08,173.04 466.13,173.06 466.44,173.56 466.49,173.82 466.50,173.71 466.80,174.18 466.85,174.17 467.00,174.35 467.21,174.68 467.50,174.69 467.57,174.59 467.93,175.06 468.00,174.97 468.28,174.93 468.50,175.27 468.64,175.11 469.00,175.40 469.50,175.14 470.00,175.02 470.50,175.13 471.00,175.53 471.50,175.42 472.00,175.55 472.50,175.58 473.00,175.37 473.50,175.85 474.00,175.49 474.50,175.68 475.00,175.46 475.50,175.67 476.00,175.82 476.50,175.68 477.00,175.61 477.50,175.74 478.00,175.67 478.50,175.84 479.00,176.10 479.50,175.63 480.00,175.66 480.50,175.76 481.00,175.78 481.50,175.63 482.00,175.87 482.50,175.91 483.00,175.83 483.50,175.62 484.00,176.03 484.50,175.62 485.00,175.92 485.50,176.00 486.00,175.62 486.50,175.84 487.00,176.04 487.50,175.89 488.00,175.69 488.50,175.65 489.00,175.91 489.50,175.78 490.00,175.73 490.50,175.95 491.00,175.79 491.50,175.85 492.00,175.94"/>
<polyline class="sp" stroke="#ff4a4a" stroke-width="1.0" points="296.66,160.24 296.83,154.55 297.00,145.36 297.01,145.10 297.18,128.80 297.35,101.32 297.50,65.93 297.53,59.11 297.70,32.32 297.87,58.98 298.00,90.93 298.05,101.10 298.22,129.05 298.39,145.18 298.50,151.34 298.57,154.38 298.74,159.97 298.91,164.00"/>
<path class="sp" stroke="#000" stroke-width="1.7" d="M80.00,351.11 L80.50,350.98 L81.00,350.99 L81.50,351.12 L82.00,351.09 L82.50,350.75 L83.00,350.95 L83.50,350.80 L84.00,350.73 L84.50,350.87 L85.00,350.50 L85.50,351.18 L86.00,350.82 L86.50,351.07 L87.00,350.59 L87.50,350.62 L88.00,351.43 L88.50,351.21 L89.00,350.85 L89.50,350.82 L90.00,350.84 L90.50,351.01 L91.00,350.90 L91.50,350.85 L92.00,351.01 L92.50,350.77 L93.00,351.49 L93.50,350.86 L94.00,351.22 L94.50,350.79 L95.00,351.05 L95.50,351.19 L96.00,350.91 L96.50,351.20 L97.00,351.20 L97.50,351.34 L98.00,351.00 L98.50,350.89 L99.00,350.77 L99.50,351.03 L100.00,350.77 L100.50,350.99 L101.00,351.02 L101.50,350.87 L102.00,350.76 L102.50,351.07 L103.00,351.05 L103.50,351.03 L104.00,350.98 L104.50,351.20 L105.00,350.77 L105.50,351.08 L106.00,350.90 L106.50,351.18 L107.00,350.92 L107.50,350.91 L108.00,351.09 L108.50,350.55 L109.00,350.92 L109.50,350.61 L110.00,350.79 L110.50,351.14 L111.00,351.08 L111.50,350.90 L112.00,350.98 L112.50,350.99 L113.00,351.06 L113.50,351.39 L114.00,351.05 L114.50,351.48 L115.00,350.91 L115.50,351.16 L116.00,351.15 L116.50,351.04 L117.00,350.94 L117.50,351.31 L118.00,351.38 L118.50,351.23 L119.00,351.45 L119.50,351.21 L120.00,350.65 L120.50,351.23 L121.00,350.85 L121.50,351.30 L122.00,350.93 L122.50,351.07 L123.00,351.01 L123.50,350.87 L124.00,350.61 L124.50,350.95 L125.00,350.97 L125.50,351.21 L126.00,350.87 L126.50,351.05 L127.00,350.81 L127.50,351.00 L128.00,350.61 L128.50,351.43 L129.00,351.06 L129.50,350.80 L130.00,351.07 L130.50,351.17 L131.00,351.05 L131.50,351.30 L132.00,350.97 L132.50,350.46 L133.00,350.74 L133.50,351.23 L134.00,351.18 L134.50,351.08 L135.00,350.76 L135.50,351.15 L136.00,351.11 L136.14,350.75 L136.25,350.75 L136.37,351.01 L136.48,351.16 L136.50,351.25 L136.59,351.05 L136.71,351.35 L136.82,350.65 L136.93,350.88 L137.00,350.56 L137.05,350.19 L137.16,350.07 L137.27,349.94 M137.73,349.90 L137.84,350.36 L137.95,350.95 L138.00,350.35 L138.07,351.27 L138.18,351.06 L138.29,350.92 L138.41,350.94 L138.50,350.87 L138.52,350.85 L138.63,350.98 L138.75,350.69 L138.86,351.42 L139.00,350.96 L139.50,351.13 L140.00,350.95 L140.50,350.94 L141.00,351.19 L141.50,351.13 L142.00,350.82 L142.50,350.91 L143.00,351.14 L143.50,350.54 L144.00,350.48 L144.50,351.31 L145.00,350.93 L145.50,350.44 L146.00,350.82 L146.50,350.94 L147.00,351.04 L147.50,351.11 L148.00,351.04 L148.50,351.11 L149.00,350.83 L149.50,351.08 L150.00,351.09 L150.50,351.26 L151.00,351.00 L151.50,351.19 L152.00,351.03 L152.50,350.76 L153.00,350.91 L153.50,350.88 L154.00,350.91 L154.50,350.98 L155.00,351.02 L155.50,351.06 L156.00,350.83 L156.50,351.23 L157.00,350.70 L157.50,350.99 L158.00,351.16 L158.50,351.10 L159.00,351.14 L159.50,350.96 L160.00,351.15 L160.50,350.74 L161.00,351.16 L161.50,351.49 L162.00,351.15 L162.50,351.43 L163.00,351.00 L163.50,350.76 L164.00,350.85 L164.50,351.29 L165.00,351.16 L165.50,350.60 L166.00,350.92 L166.50,350.99 L167.00,350.76 L167.50,350.45 L168.00,350.70 L168.50,350.96 L169.00,350.91 L169.50,350.85 L170.00,351.12 L170.50,351.22 L171.00,350.98 L171.50,351.20 L172.00,351.00 L172.50,350.97 L173.00,350.47 L173.50,351.17 L174.00,351.01 L174.50,351.02 L175.00,350.89 L175.50,350.75 L176.00,351.09 L176.50,351.16 L177.00,351.34 L177.50,351.18 L178.00,350.86 L178.50,350.97 L179.00,351.20 L179.50,351.05 L180.00,350.96 L180.50,350.86 L181.00,351.10 L181.50,351.02 L182.00,351.36 L182.50,351.21 L183.00,350.59 L183.50,351.42 L184.00,351.00 L184.50,350.87 L185.00,350.98 L185.50,351.05 L186.00,350.85 L186.50,350.78 L187.00,350.70 L187.50,350.87 L187.64,350.38 L187.78,350.39 L187.92,350.12 L188.00,349.78 L188.06,349.55 L188.16,349.17 L188.19,349.34 M190.82,348.85 L190.84,348.93 L190.85,348.93 L190.96,349.41 L190.98,349.94 L191.00,349.68 L191.01,349.59 L191.12,349.92 L191.17,349.69 L191.25,350.03 L191.32,350.19 L191.39,349.68 L191.48,349.84 L191.50,349.93 L191.53,349.76 L191.64,349.66 L191.64,349.82 L191.67,350.40 L191.78,349.85 L191.80,349.76 L191.81,349.86 L191.92,349.31 L191.95,348.98 L192.00,349.11 L192.06,348.93 M193.72,348.79 L193.75,348.96 L193.85,349.29 L193.88,349.61 L193.99,349.76 L194.00,349.67 L194.02,350.01 L194.13,350.55 L194.16,350.52 L194.27,350.70 L194.41,350.14 L194.50,350.73 L194.54,350.29 L194.68,350.49 L194.82,350.29 L194.96,350.48 L195.00,350.73 L195.50,350.82 L196.00,350.78 L196.50,350.75 L196.84,350.87 L196.98,350.73 L197.00,350.37 L197.12,351.07 L197.25,350.59 L197.39,350.78 L197.50,350.46 L197.53,350.29 L197.67,350.34 L197.81,349.92 L197.95,350.04 L198.00,349.21 L198.09,349.07 M198.91,348.60 L199.00,349.40 L199.05,349.64 L199.19,350.42 L199.33,350.04 L199.47,350.11 L199.50,350.53 L199.61,350.66 L199.75,351.04 L199.88,350.54 L200.00,350.17 L200.02,350.61 L200.16,350.52 L200.50,350.73 L201.00,351.11 L201.50,350.62 L202.00,351.20 L202.50,350.98 L203.00,350.88 L203.50,350.75 L204.00,350.86 L204.50,350.87 L205.00,351.12 L205.50,351.24 L206.00,350.94 L206.50,351.10 L207.00,351.22 L207.50,351.20 L208.00,351.01 L208.50,351.27 L208.84,351.10 L208.98,351.13 L209.00,350.73 L209.12,350.64 L209.25,350.24 L209.39,350.93 L209.50,350.67 L209.53,350.29 L209.67,350.37 L209.81,350.14 L209.95,349.24 L210.00,349.44 L210.09,349.05 M210.91,348.67 L211.00,349.24 L211.05,349.76 L211.19,349.93 L211.33,350.20 L211.47,350.88 L211.50,350.59 L211.61,350.51 L211.75,350.81 L211.88,351.21 L212.00,350.83 L212.02,350.61 L212.16,350.46 L212.50,351.34 L213.00,350.33 L213.50,351.18 L214.00,350.73 L214.50,350.68 L215.00,350.74 L215.50,350.93 L216.00,351.22 L216.50,350.83 L217.00,351.13 L217.50,351.53 L218.00,350.35 L218.50,350.82 L219.00,350.58 L219.50,351.18 L220.00,350.66 L220.50,350.63 L221.00,350.64 L221.50,350.98 L222.00,351.24 L222.50,351.02 L223.00,351.47 L223.50,351.36 L224.00,350.96 L224.50,351.20 L225.00,351.02 L225.50,351.01 L226.00,350.56 L226.50,350.70 L227.00,350.99 L227.50,350.72 L228.00,351.15 L228.50,351.06 L229.00,350.78 L229.50,351.25 L230.00,351.04 L230.50,351.27 L231.00,350.96 L231.50,350.62 L232.00,351.15 L232.50,350.93 L233.00,351.18 L233.50,351.23 L234.00,351.25 L234.50,350.66 L235.00,350.46 L235.50,350.87 L236.00,351.14 L236.50,350.82 L237.00,351.05 L237.50,350.80 L238.00,350.91 L238.50,350.92 L239.00,350.84 L239.50,351.11 L240.00,351.07 L240.50,351.36 L241.00,351.07 L241.50,351.29 L242.00,351.01 L242.50,351.19 L243.00,350.95 L243.50,350.88 L244.00,351.29 L244.50,351.15 L245.00,351.18 L245.50,350.81 L246.00,350.60 L246.50,350.79 L247.00,351.05 L247.50,350.65 L248.00,351.31 L248.50,350.64 L249.00,351.12 L249.50,351.58 L250.00,350.39 L250.50,350.62 L251.00,351.20 L251.50,350.93 L252.00,351.02 L252.50,350.95 L253.00,351.29 L253.50,351.12 L254.00,350.86 L254.50,350.92 L255.00,350.70 L255.50,350.95 L256.00,350.45 L256.50,351.12 L257.00,350.90 L257.50,351.38 L258.00,351.24 L258.50,350.67 L259.00,351.17 L259.50,350.84 L260.00,350.97 L260.50,351.19 L261.00,351.03 L261.50,351.07 L262.00,351.06 L262.50,350.79 L263.00,350.81 L263.50,351.08 L264.00,351.15 L264.50,350.88 L265.00,350.97 L265.50,350.72 L266.00,350.36 L266.50,350.76 L267.00,350.95 L267.50,350.98 L268.00,351.12 L268.50,351.13 L269.00,351.15 L269.50,351.02 L270.00,351.02 L270.50,350.76 L271.00,351.01 L271.50,350.96 L272.00,351.19 L272.50,350.55 L273.00,350.80 L273.50,350.52 L274.00,350.73 L274.50,350.57 L275.00,350.95 L275.50,350.74 L276.00,350.30 L276.50,351.16 L277.00,350.62 L277.50,350.50 L278.00,350.78 L278.50,350.70 L279.00,350.58 L279.50,351.00 L280.00,350.75 L280.50,351.03 L281.00,350.98 L281.50,350.96 L282.00,350.84 L282.50,350.77 L283.00,350.69 L283.50,351.10 L284.00,350.32 L284.50,350.49 L285.00,350.57 L285.50,350.80 L286.00,350.72 L286.50,350.55 L287.00,350.56 L287.50,351.00 L288.00,350.42 L288.50,349.90 L289.00,350.93 L289.50,350.24 L290.00,350.33 L290.50,350.38 L291.00,349.97 L291.50,350.46 L292.00,350.06 L292.50,349.64 L293.00,349.86 L293.50,349.73 L294.00,349.37 L294.50,349.20 M305.00,348.62 L305.50,349.04 L306.00,349.59 L306.50,349.58 L307.00,349.79 L307.50,350.33 L308.00,350.02 L308.50,350.13 L309.00,350.22 L309.50,350.54 L310.00,350.29 L310.50,350.24 L311.00,350.22 L311.50,350.49 L312.00,350.07 L312.25,350.46 L312.45,350.21 L312.50,349.86 L312.64,350.28 L312.84,350.19 L313.00,349.78 L313.03,350.10 L313.23,349.98 L313.43,349.73 L313.50,349.47 L313.62,350.06 L313.82,349.42 L314.00,348.97 L314.01,348.94 M315.19,348.57 L315.38,348.73 L315.50,349.22 L315.58,349.53 L315.70,349.52 L315.77,349.76 L315.91,349.55 L315.97,349.44 L316.00,349.83 L316.12,349.71 L316.17,349.41 L316.32,349.76 L316.36,349.60 L316.50,349.84 L316.53,349.78 L316.56,349.70 L316.74,349.01 L316.75,349.57 L316.95,349.43 L317.00,349.39 L317.16,349.08 M320.70,348.75 L320.71,348.82 L320.83,348.93 L320.87,348.75 L321.00,348.73 L321.02,348.75 L321.04,349.11 L321.18,349.10 L321.25,349.13 L321.34,348.80 L321.46,349.27 L321.50,348.52 L321.67,348.67 M323.50,348.88 L323.54,348.94 L323.75,349.33 L323.96,349.26 L324.00,349.03 L324.17,349.48 L324.38,348.97 L324.50,348.95 L324.58,348.89 L324.79,349.14 M336.50,348.58 M338.91,348.61 L339.00,348.75 L339.07,349.40 L339.23,349.47 L339.38,349.87 L339.50,349.64 L339.54,349.73 L339.70,349.89 L340.00,350.11 L340.50,350.19 L341.00,350.36 L341.50,350.14 L342.00,349.96 L342.50,350.73 L343.00,350.33 L343.50,350.36 L344.00,350.06 L344.50,350.16 L345.00,349.49 L345.50,348.97 L346.00,348.93 L346.50,349.61 L347.00,349.79 L347.50,349.41 L348.00,348.78 L348.50,348.57 L349.00,348.87 L349.50,349.43 L350.00,349.62 L350.50,349.25 L350.70,349.10 L350.96,349.44 L351.00,349.33 L351.22,348.61 M351.50,348.72 M364.50,348.93 L365.00,349.43 L365.50,349.01 L365.66,349.48 L365.84,349.09 L366.00,349.30 L366.02,348.54 L366.19,348.86 L366.37,348.75 M369.43,348.61 M369.94,348.59 M371.82,349.04 L372.00,349.75 L372.00,349.71 L372.17,349.89 L372.34,349.97 L372.50,349.83 L372.51,350.37 L372.68,350.09 L372.85,350.13 L373.00,350.20 L373.50,350.34 L374.00,350.16 L374.50,350.41 L375.00,350.30 L375.50,350.25 L376.00,349.69 L376.50,349.78 L377.00,348.81 L377.50,349.55 L378.00,349.12 L378.50,349.23 L379.00,350.33 L379.50,350.42 L380.00,350.65 L380.50,350.45 L381.00,350.88 L381.18,350.23 L381.37,350.46 L381.50,350.55 L381.55,350.65 L381.73,350.62 L381.92,350.63 L382.00,350.46 L382.10,350.28 L382.28,350.17 L382.47,350.21 L382.50,349.90 L382.65,349.70 L382.83,348.80 M383.50,348.75 L383.57,349.11 L383.75,349.19 L383.93,349.86 L384.00,349.75 L384.10,349.99 L384.12,349.84 L384.30,349.63 L384.31,350.09 L384.48,350.02 L384.50,350.12 L384.52,349.75 L384.67,350.13 L384.73,350.13 L384.85,350.12 L384.93,350.07 L385.00,349.60 L385.03,349.11 L385.05,349.87 L385.14,349.35 L385.22,349.41 L385.22,349.70 L385.35,349.31 L385.39,349.23 L385.40,349.31 L385.50,348.52 L385.56,349.21 L385.56,348.70 M388.12,348.53 L388.27,348.95 L388.30,348.70 L388.47,349.53 L388.48,349.02 L388.50,349.08 L388.64,349.59 L388.68,349.53 L388.81,349.65 L388.89,349.56 L388.98,350.21 L389.00,349.73 L389.10,350.15 L389.15,350.27 L389.50,350.26 L390.00,350.48 L390.50,350.74 L391.00,350.92 L391.50,350.80 L392.00,350.27 L392.50,350.12 L393.00,350.33 L393.50,350.05 L394.00,350.02 L394.50,348.98 L395.00,348.57 L395.50,349.53 L396.00,349.28 M397.00,348.61 L397.50,349.20 M400.45,348.59 M416.55,348.90 L416.75,349.39 L417.00,349.02 L417.40,349.07 L417.50,349.02 L417.58,349.33 L417.77,348.52 M426.87,348.76 L427.00,348.67 L427.10,349.24 L427.33,349.47 L427.50,348.95 L427.57,348.97 L427.80,349.28 L428.00,349.42 L428.50,349.53 L429.00,349.69 L429.50,348.96 L429.60,349.07 L429.76,348.93 L429.92,348.71 M433.08,348.60 L433.24,348.71 L433.40,348.71 L433.50,348.89 L434.00,348.81 L434.50,349.37 L435.00,349.03 L435.50,348.51 L436.00,348.88 L436.50,349.56 L437.00,350.07 L437.50,349.80 L437.80,350.11 L437.96,349.17 L438.00,349.37 L438.12,349.54 L438.27,349.51 L438.43,348.83 L438.50,349.14 L438.59,348.59 M440.97,348.85 L441.00,349.37 L441.12,349.10 L441.28,349.79 L441.44,349.78 L441.50,349.79 L441.60,349.83 L442.00,350.61 L442.50,350.03 L443.00,350.36 L443.50,350.64 L444.00,350.80 L444.50,350.96 L445.00,350.89 L445.50,350.45 L446.00,350.62 L446.50,350.76 L447.00,350.57 L447.50,350.02 L448.00,350.32 L448.50,350.19 L449.00,349.46 L449.25,349.43 L449.42,349.32 L449.50,349.36 L449.59,349.42 L449.76,349.02 M457.06,348.52 L457.25,348.99 L457.45,349.42 L457.50,349.46 L458.00,349.72 L458.50,350.07 L459.00,349.98 L459.50,350.52 L460.00,350.25 L460.50,350.51 L461.00,350.63 L461.50,351.11 L462.00,351.00 L462.50,350.58 L463.00,350.46 L463.50,350.75 L464.00,350.64 L464.50,350.92 L465.00,350.92 L465.50,351.00 L466.00,350.65 L466.50,350.80 L467.00,350.93 L467.50,350.96 L468.00,350.77 L468.50,350.83 L469.00,351.09 L469.50,350.54 L470.00,350.86 L470.50,350.92 L471.00,350.60 L471.50,350.70 L472.00,350.95 L472.50,350.82 L473.00,351.17 L473.50,351.08 L474.00,351.44 L474.50,350.68 L475.00,351.37 L475.50,350.80 L476.00,351.13 L476.50,351.17 L477.00,351.00 L477.50,350.90 L478.00,350.82 L478.50,350.57 L479.00,350.88 L479.50,350.77 L480.00,351.09 L480.50,350.81 L481.00,350.93 L481.50,351.07 L482.00,350.99 L482.50,350.98 L483.00,350.93 L483.50,350.88 L484.00,351.08 L484.50,351.13 L485.00,350.81 L485.50,351.35 L486.00,351.11 L486.50,350.63 L487.00,351.57 L487.50,351.13 L488.00,350.82 L488.50,351.34 L489.00,350.40 L489.50,351.55 L490.00,350.66 L490.50,350.64 L491.00,350.78 L491.50,351.03 L492.00,350.90"/>
<polyline class="sp" stroke="#000" stroke-width="1.05" points="80.00,351.11 80.50,350.98 81.00,350.99 81.50,351.12 82.00,351.09 82.50,350.75 83.00,350.95 83.50,350.80 84.00,350.73 84.50,350.87 85.00,350.50 85.50,351.18 86.00,350.82 86.50,351.07 87.00,350.59 87.50,350.62 88.00,351.43 88.50,351.21 89.00,350.85 89.50,350.82 90.00,350.84 90.50,351.01 91.00,350.90 91.50,350.85 92.00,351.01 92.50,350.77 93.00,351.49 93.50,350.86 94.00,351.22 94.50,350.79 95.00,351.05 95.50,351.19 96.00,350.91 96.50,351.20 97.00,351.20 97.50,351.34 98.00,351.00 98.50,350.89 99.00,350.77 99.50,351.03 100.00,350.77 100.50,350.99 101.00,351.02 101.50,350.87 102.00,350.76 102.50,351.07 103.00,351.05 103.50,351.03 104.00,350.98 104.50,351.20 105.00,350.77 105.50,351.08 106.00,350.90 106.50,351.18 107.00,350.92 107.50,350.91 108.00,351.09 108.50,350.55 109.00,350.92 109.50,350.61 110.00,350.79 110.50,351.14 111.00,351.08 111.50,350.90 112.00,350.98 112.50,350.99 113.00,351.06 113.50,351.39 114.00,351.05 114.50,351.48 115.00,350.91 115.50,351.16 116.00,351.15 116.50,351.04 117.00,350.94 117.50,351.31 118.00,351.38 118.50,351.23 119.00,351.45 119.50,351.21 120.00,350.65 120.50,351.23 121.00,350.85 121.50,351.30 122.00,350.93 122.50,351.07 123.00,351.01 123.50,350.87 124.00,350.61 124.50,350.95 125.00,350.97 125.50,351.21 126.00,350.87 126.50,351.05 127.00,350.81 127.50,351.00 128.00,350.61 128.50,351.43 129.00,351.06 129.50,350.80 130.00,351.07 130.50,351.17 131.00,351.05 131.50,351.30 132.00,350.97 132.50,350.46 133.00,350.74 133.50,351.23 134.00,351.18 134.50,351.08 135.00,350.76 135.50,351.15 136.00,351.11 136.14,350.75 136.25,350.75 136.37,351.01 136.48,351.16 136.50,351.25 136.59,351.05 136.71,351.35 136.82,350.65 136.93,350.88 137.00,350.56 137.05,350.19 137.16,350.07 137.27,349.94 137.39,347.63 137.50,344.75 137.61,347.98 137.73,349.90 137.84,350.36 137.95,350.95 138.00,350.35 138.07,351.27 138.18,351.06 138.29,350.92 138.41,350.94 138.50,350.87 138.52,350.85 138.63,350.98 138.75,350.69 138.86,351.42 139.00,350.96 139.50,351.13 140.00,350.95 140.50,350.94 141.00,351.19 141.50,351.13 142.00,350.82 142.50,350.91 143.00,351.14 143.50,350.54 144.00,350.48 144.50,351.31 145.00,350.93 145.50,350.44 146.00,350.82 146.50,350.94 147.00,351.04 147.50,351.11 148.00,351.04 148.50,351.11 149.00,350.83 149.50,351.08 150.00,351.09 150.50,351.26 151.00,351.00 151.50,351.19 152.00,351.03 152.50,350.76 153.00,350.91 153.50,350.88 154.00,350.91 154.50,350.98 155.00,351.02 155.50,351.06 156.00,350.83 156.50,351.23 157.00,350.70 157.50,350.99 158.00,351.16 158.50,351.10 159.00,351.14 159.50,350.96 160.00,351.15 160.50,350.74 161.00,351.16 161.50,351.49 162.00,351.15 162.50,351.43 163.00,351.00 163.50,350.76 164.00,350.85 164.50,351.29 165.00,351.16 165.50,350.60 166.00,350.92 166.50,350.99 167.00,350.76 167.50,350.45 168.00,350.70 168.50,350.96 169.00,350.91 169.50,350.85 170.00,351.12 170.50,351.22 171.00,350.98 171.50,351.20 172.00,351.00 172.50,350.97 173.00,350.47 173.50,351.17 174.00,351.01 174.50,351.02 175.00,350.89 175.50,350.75 176.00,351.09 176.50,351.16 177.00,351.34 177.50,351.18 178.00,350.86 178.50,350.97 179.00,351.20 179.50,351.05 180.00,350.96 180.50,350.86 181.00,351.10 181.50,351.02 182.00,351.36 182.50,351.21 183.00,350.59 183.50,351.42 184.00,351.00 184.50,350.87 185.00,350.98 185.50,351.05 186.00,350.85 186.50,350.78 187.00,350.70 187.50,350.87 187.64,350.38 187.78,350.39 187.92,350.12 188.00,349.78 188.06,349.55 188.16,349.17 188.19,349.34 188.32,348.42 188.33,348.28 188.47,347.40 188.47,347.32 188.50,347.50 188.61,347.01 188.63,346.73 188.75,347.05 188.79,346.63 188.88,346.41 188.95,345.81 189.00,345.42 189.02,344.83 189.11,342.54 189.16,340.53 189.27,337.28 189.30,337.22 189.43,340.01 189.44,340.58 189.50,342.19 189.58,343.93 189.58,343.83 189.72,344.54 189.74,344.95 189.85,345.24 189.90,345.19 189.99,345.87 190.00,345.88 190.06,345.83 190.13,346.64 190.22,347.50 190.27,347.17 190.38,347.11 190.41,347.47 190.50,347.65 190.53,347.68 190.54,347.59 190.68,348.28 190.69,348.21 190.82,348.85 190.84,348.93 190.85,348.93 190.96,349.41 190.98,349.94 191.00,349.68 191.01,349.59 191.12,349.92 191.17,349.69 191.25,350.03 191.32,350.19 191.39,349.68 191.48,349.84 191.50,349.93 191.53,349.76 191.64,349.66 191.64,349.82 191.67,350.40 191.78,349.85 191.80,349.76 191.81,349.86 191.92,349.31 191.95,348.98 192.00,349.11 192.06,348.93 192.09,348.01 192.19,347.42 192.22,347.14 192.33,344.50 192.36,343.64 192.47,341.36 192.50,340.83 192.61,342.75 192.64,343.61 192.75,345.64 192.78,345.92 192.88,347.01 192.91,346.84 193.00,346.67 193.02,345.85 193.05,346.33 193.16,344.10 193.19,343.81 193.30,342.53 193.33,342.53 193.44,344.66 193.47,345.27 193.50,346.15 193.58,347.66 193.61,348.03 193.72,348.79 193.75,348.96 193.85,349.29 193.88,349.61 193.99,349.76 194.00,349.67 194.02,350.01 194.13,350.55 194.16,350.52 194.27,350.70 194.41,350.14 194.50,350.73 194.54,350.29 194.68,350.49 194.82,350.29 194.96,350.48 195.00,350.73 195.50,350.82 196.00,350.78 196.50,350.75 196.84,350.87 196.98,350.73 197.00,350.37 197.12,351.07 197.25,350.59 197.39,350.78 197.50,350.46 197.53,350.29 197.67,350.34 197.81,349.92 197.95,350.04 198.00,349.21 198.09,349.07 198.22,347.27 198.36,344.34 198.50,342.37 198.64,344.55 198.78,347.36 198.91,348.60 199.00,349.40 199.05,349.64 199.19,350.42 199.33,350.04 199.47,350.11 199.50,350.53 199.61,350.66 199.75,351.04 199.88,350.54 200.00,350.17 200.02,350.61 200.16,350.52 200.50,350.73 201.00,351.11 201.50,350.62 202.00,351.20 202.50,350.98 203.00,350.88 203.50,350.75 204.00,350.86 204.50,350.87 205.00,351.12 205.50,351.24 206.00,350.94 206.50,351.10 207.00,351.22 207.50,351.20 208.00,351.01 208.50,351.27 208.84,351.10 208.98,351.13 209.00,350.73 209.12,350.64 209.25,350.24 209.39,350.93 209.50,350.67 209.53,350.29 209.67,350.37 209.81,350.14 209.95,349.24 210.00,349.44 210.09,349.05 210.22,347.41 210.36,343.74 210.50,340.93 210.64,344.12 210.78,347.34 210.91,348.67 211.00,349.24 211.05,349.76 211.19,349.93 211.33,350.20 211.47,350.88 211.50,350.59 211.61,350.51 211.75,350.81 211.88,351.21 212.00,350.83 212.02,350.61 212.16,350.46 212.50,351.34 213.00,350.33 213.50,351.18 214.00,350.73 214.50,350.68 215.00,350.74 215.50,350.93 216.00,351.22 216.50,350.83 217.00,351.13 217.50,351.53 218.00,350.35 218.50,350.82 219.00,350.58 219.50,351.18 220.00,350.66 220.50,350.63 221.00,350.64 221.50,350.98 222.00,351.24 222.50,351.02 223.00,351.47 223.50,351.36 224.00,350.96 224.50,351.20 225.00,351.02 225.50,351.01 226.00,350.56 226.50,350.70 227.00,350.99 227.50,350.72 228.00,351.15 228.50,351.06 229.00,350.78 229.50,351.25 230.00,351.04 230.50,351.27 231.00,350.96 231.50,350.62 232.00,351.15 232.50,350.93 233.00,351.18 233.50,351.23 234.00,351.25 234.50,350.66 235.00,350.46 235.50,350.87 236.00,351.14 236.50,350.82 237.00,351.05 237.50,350.80 238.00,350.91 238.50,350.92 239.00,350.84 239.50,351.11 240.00,351.07 240.50,351.36 241.00,351.07 241.50,351.29 242.00,351.01 242.50,351.19 243.00,350.95 243.50,350.88 244.00,351.29 244.50,351.15 245.00,351.18 245.50,350.81 246.00,350.60 246.50,350.79 247.00,351.05 247.50,350.65 248.00,351.31 248.50,350.64 249.00,351.12 249.50,351.58 250.00,350.39 250.50,350.62 251.00,351.20 251.50,350.93 252.00,351.02 252.50,350.95 253.00,351.29 253.50,351.12 254.00,350.86 254.50,350.92 255.00,350.70 255.50,350.95 256.00,350.45 256.50,351.12 257.00,350.90 257.50,351.38 258.00,351.24 258.50,350.67 259.00,351.17 259.50,350.84 260.00,350.97 260.50,351.19 261.00,351.03 261.50,351.07 262.00,351.06 262.50,350.79 263.00,350.81 263.50,351.08 264.00,351.15 264.50,350.88 265.00,350.97 265.50,350.72 266.00,350.36 266.50,350.76 267.00,350.95 267.50,350.98 268.00,351.12 268.50,351.13 269.00,351.15 269.50,351.02 270.00,351.02 270.50,350.76 271.00,351.01 271.50,350.96 272.00,351.19 272.50,350.55 273.00,350.80 273.50,350.52 274.00,350.73 274.50,350.57 275.00,350.95 275.50,350.74 276.00,350.30 276.50,351.16 277.00,350.62 277.50,350.50 278.00,350.78 278.50,350.70 279.00,350.58 279.50,351.00 280.00,350.75 280.50,351.03 281.00,350.98 281.50,350.96 282.00,350.84 282.50,350.77 283.00,350.69 283.50,351.10 284.00,350.32 284.50,350.49 285.00,350.57 285.50,350.80 286.00,350.72 286.50,350.55 287.00,350.56 287.50,351.00 288.00,350.42 288.50,349.90 289.00,350.93 289.50,350.24 290.00,350.33 290.50,350.38 291.00,349.97 291.50,350.46 292.00,350.06 292.50,349.64 293.00,349.86 293.50,349.73 294.00,349.37 294.50,349.20 295.00,348.35 295.50,348.37 296.00,347.22 296.50,346.61 297.00,344.52 297.04,344.52 297.28,343.92 297.50,341.95 297.52,342.07 297.75,339.96"/>
<polyline class="sp" stroke="#000" stroke-width="1.05" points="302.28,341.90 302.50,343.09 302.52,343.02 302.76,344.31 303.00,345.37 303.50,346.28 304.00,347.53 304.50,348.40 305.00,348.62 305.50,349.04 306.00,349.59 306.50,349.58 307.00,349.79 307.50,350.33 308.00,350.02 308.50,350.13 309.00,350.22 309.50,350.54 310.00,350.29 310.50,350.24 311.00,350.22 311.50,350.49 312.00,350.07 312.25,350.46 312.45,350.21 312.50,349.86 312.64,350.28 312.84,350.19 313.00,349.78 313.03,350.10 313.23,349.98 313.43,349.73 313.50,349.47 313.62,350.06 313.82,349.42 314.00,348.97 314.01,348.94 314.21,348.01 314.40,346.80 314.50,346.05 314.60,346.10 314.80,346.55 314.99,347.66 315.00,347.96 315.19,348.57 315.38,348.73 315.50,349.22 315.58,349.53 315.70,349.52 315.77,349.76 315.91,349.55 315.97,349.44 316.00,349.83 316.12,349.71 316.17,349.41 316.32,349.76 316.36,349.60 316.50,349.84 316.53,349.78 316.56,349.70 316.74,349.01 316.75,349.57 316.95,349.43 317.00,349.39 317.16,349.08 317.37,348.46 317.50,348.16 317.57,347.46 317.70,347.25 317.78,346.49 317.86,346.24 317.99,345.21 318.00,345.60 318.02,345.20 318.18,344.46 318.20,344.45 318.33,345.04 318.41,344.66 318.49,345.32 318.50,345.36 318.62,345.76 318.65,345.84 318.81,345.81 318.82,346.15 318.97,345.55 319.00,345.06 319.03,344.83 319.12,343.90 319.24,341.77 319.28,340.77 319.44,335.02 319.45,334.44 319.50,333.12 319.60,330.76 319.66,331.62 319.76,335.31 319.87,339.24 319.92,341.34 320.00,343.50 320.07,344.80 320.21,346.28 320.23,346.49 320.28,346.94 320.39,347.47 320.42,348.09 320.49,347.82 320.50,348.27 320.55,348.27 320.62,348.43 320.70,348.75 320.71,348.82 320.83,348.93 320.87,348.75 321.00,348.73 321.02,348.75 321.04,349.11 321.18,349.10 321.25,349.13 321.34,348.80 321.46,349.27 321.50,348.52 321.67,348.67 321.88,348.23 322.00,347.52 322.08,346.98 322.29,345.97 322.50,345.17 322.71,346.04 322.92,346.97 323.00,347.36 323.12,348.14 323.33,348.34 323.50,348.88 323.54,348.94 323.75,349.33 323.96,349.26 324.00,349.03 324.17,349.48 324.38,348.97 324.50,348.95 324.58,348.89 324.79,349.14 325.00,348.20 325.10,347.72 325.28,347.34 325.47,346.55 325.50,347.02 325.65,346.22 325.83,346.45 326.00,345.85 326.02,346.41 326.20,345.39 326.38,345.45 326.50,345.32 326.57,345.77 326.60,345.72 326.75,344.98 326.76,345.63 326.92,344.93 326.93,344.74 327.00,344.40 327.07,343.26 327.12,342.75 327.23,342.39 327.30,342.38 327.39,341.87 327.48,342.36 327.50,342.53 327.55,342.75 327.67,343.67 327.71,343.57 327.85,343.49 327.87,343.39 328.00,341.41 328.02,341.36 328.03,340.57 328.10,339.60 328.18,337.24 328.22,335.63 328.28,332.47 328.34,329.82 328.40,327.45 328.47,325.02 328.50,324.50 328.58,326.50 328.65,329.48 328.66,329.48 328.77,334.71 328.82,336.84 328.83,337.21 328.95,340.11 328.98,340.28 329.00,340.67 329.02,340.64 329.13,341.53 329.20,342.11 329.29,341.48 329.32,341.27 329.35,341.24 329.38,340.98 329.45,341.15 329.50,341.21 329.52,340.82 329.57,341.38 329.61,341.80 329.68,341.50 329.69,341.93 329.75,342.13 329.77,342.44 329.86,342.65 329.87,342.61 329.93,342.38 329.93,342.20 330.00,342.54 330.03,341.69 330.05,342.01 330.08,341.76 330.12,341.14 330.20,340.74 330.23,340.94 330.24,340.16 330.30,340.69 330.38,340.70 330.40,340.86 330.42,340.72 330.48,341.69 330.50,341.52 330.55,342.31 330.60,342.32 330.67,343.13 330.72,343.23 330.78,342.81 330.85,343.04 330.89,342.91 330.97,341.85 331.00,341.90 331.03,341.74 331.06,341.03 331.15,339.79 331.22,337.85 331.23,337.58 331.33,336.12 331.40,335.74 331.50,336.57 331.52,336.92 331.57,338.31 331.58,338.24 331.70,341.40 331.74,341.81 331.77,342.22 331.91,343.87 331.95,344.01 332.00,344.61 332.08,344.47 332.13,344.72 332.25,345.01 332.25,345.17 332.32,345.32 332.42,345.47 332.43,345.78 332.50,346.00 332.59,346.30 332.60,346.33 332.76,346.94 332.77,347.36 332.93,347.93 332.94,347.48 333.00,347.72 333.05,347.58 333.10,347.85 333.11,347.59 333.22,347.66 333.27,347.65 333.28,347.69 333.39,347.55 333.45,347.47 333.45,347.46 333.50,347.16 333.56,347.27 333.62,346.54 333.73,346.26 333.79,345.58 333.90,344.56 333.96,343.82 334.00,342.63 334.07,341.75 334.13,340.89 334.25,338.84 334.30,338.37 334.42,338.39 334.47,339.47 334.50,339.68 334.59,341.05 334.64,341.12 334.76,341.10 334.81,340.53 334.93,339.86 334.98,338.97 335.00,338.87 335.10,338.82 335.15,338.99 335.27,340.96 335.32,342.48 335.44,343.90 335.50,344.68 335.50,344.95 335.61,346.35 335.67,346.18 335.78,347.15 335.84,347.24 335.90,347.39 335.95,347.98 336.00,347.80 336.01,348.05 336.06,348.12 336.12,348.24 336.18,348.29 336.22,348.08 336.30,348.36 336.35,348.44 336.38,348.47 336.47,348.33 336.50,348.58 336.53,348.48 336.64,348.28 336.69,348.31 336.81,347.97 336.85,347.96 336.98,346.89 337.00,346.93 337.01,347.08 337.15,346.20 337.17,345.55 337.32,343.87 337.48,340.06 337.50,339.40 337.64,333.47 337.80,328.69 337.96,333.62 338.00,335.07 338.12,340.38 338.27,344.01 338.43,346.55 338.50,346.54 338.59,347.65 338.75,348.34 338.91,348.61 339.00,348.75 339.07,349.40 339.23,349.47 339.38,349.87 339.50,349.64 339.54,349.73 339.70,349.89 340.00,350.11 340.50,350.19 341.00,350.36 341.50,350.14 342.00,349.96 342.50,350.73 343.00,350.33 343.50,350.36 344.00,350.06 344.50,350.16 345.00,349.49 345.50,348.97 346.00,348.93 346.50,349.61 347.00,349.79 347.50,349.41 348.00,348.78 348.50,348.57 349.00,348.87 349.50,349.43 350.00,349.62 350.50,349.25 350.70,349.10 350.96,349.44 351.00,349.33 351.22,348.61 351.48,348.29 351.50,348.72 351.73,348.36 351.99,347.55 352.00,347.49 352.10,347.41 352.25,346.58 352.36,346.56 352.50,346.27 352.51,345.79 352.62,346.05 352.77,345.91 352.88,345.78 353.00,345.73 353.02,345.97 353.13,345.80 353.28,345.75 353.39,344.94 353.50,344.90 353.54,345.17 353.65,344.68 353.76,344.37 353.80,344.39 353.91,344.11 354.00,344.32 354.02,344.76 354.06,344.73 354.17,345.17 354.27,345.00 354.32,345.07 354.43,344.59 354.50,345.16 354.53,345.63 354.57,345.29 354.68,344.99 354.79,345.10 354.83,344.93 354.94,344.58 355.00,344.31 355.05,344.34 355.09,344.45 355.20,344.03 355.31,344.40 355.35,344.46 355.46,344.87 355.50,344.84 355.57,344.69 355.61,345.29 355.72,345.18 355.82,345.17 355.87,345.45 355.98,345.36 356.00,345.66 356.08,345.10 356.12,345.12 356.23,345.19 356.34,345.50 356.38,345.29 356.49,344.77 356.50,344.60 356.60,344.93 356.64,344.76 356.75,345.35 356.86,345.52 356.90,345.59 357.00,345.77 357.01,346.22 357.12,345.96 357.27,346.18 357.38,346.88 357.50,347.05 357.52,346.69 357.63,347.00 357.78,347.50 357.89,346.93 358.00,347.23 358.04,347.43 358.15,347.02 358.30,347.65 358.41,347.95 358.50,347.82 358.67,348.07 358.93,347.76 359.00,347.37 359.18,347.15 359.25,346.96 359.42,346.17 359.44,346.33 359.50,346.32 359.59,346.44 359.70,346.65 359.76,346.58 359.93,347.31 360.00,347.03 360.10,347.79 360.27,347.70 360.45,347.74 360.50,347.38 360.62,346.75 360.79,345.35 360.96,343.61 361.00,342.71 361.13,340.09 361.30,337.86 361.47,340.10 361.50,340.42 361.64,343.48 361.81,345.04 361.98,345.92 362.00,346.12 362.15,346.35 362.32,346.33 362.50,345.59 362.50,346.30 362.67,345.92 362.84,346.55 363.00,347.07 363.01,347.26 363.18,346.87 363.35,346.63 363.50,347.15 364.00,348.14 364.50,348.93 365.00,349.43 365.50,349.01 365.66,349.48 365.84,349.09 366.00,349.30 366.02,348.54 366.19,348.86 366.37,348.75 366.50,347.88 366.55,347.68 366.73,346.31 366.91,345.39 367.00,344.28 367.09,342.87 367.26,338.75 367.44,332.40 367.50,329.24 367.62,322.36 367.80,316.37 367.98,322.44 368.00,323.72 368.16,332.54 368.33,338.76 368.50,343.00 368.51,342.65 368.69,344.97 368.75,345.72 368.87,346.72 368.92,346.89 369.00,347.11 369.05,347.24 369.09,347.50 369.23,347.72 369.26,348.13 369.40,348.18 369.43,348.61 369.50,348.15 369.58,348.32 369.60,348.45 369.76,348.02 369.77,348.11 369.94,348.59 369.95,347.94 370.00,348.11 370.12,347.05 370.29,345.45 370.46,343.76 370.50,342.83 370.63,340.03 370.80,337.52 370.97,339.96 371.00,340.51 371.14,344.12 371.31,346.05 371.48,348.03 371.50,347.87 371.65,348.42 371.82,349.04 372.00,349.75 372.00,349.71 372.17,349.89 372.34,349.97 372.50,349.83 372.51,350.37 372.68,350.09 372.85,350.13 373.00,350.20 373.50,350.34 374.00,350.16 374.50,350.41 375.00,350.30 375.50,350.25 376.00,349.69 376.50,349.78 377.00,348.81 377.50,349.55 378.00,349.12 378.50,349.23 379.00,350.33 379.50,350.42 380.00,350.65 380.50,350.45 381.00,350.88 381.18,350.23 381.37,350.46 381.50,350.55 381.55,350.65 381.73,350.62 381.92,350.63 382.00,350.46 382.10,350.28 382.28,350.17 382.47,350.21 382.50,349.90 382.65,349.70 382.83,348.80 383.00,347.57 383.02,347.75 383.20,347.37 383.38,348.20 383.50,348.75 383.57,349.11 383.75,349.19 383.93,349.86 384.00,349.75 384.10,349.99 384.12,349.84 384.30,349.63 384.31,350.09 384.48,350.02 384.50,350.12 384.52,349.75 384.67,350.13 384.73,350.13 384.85,350.12 384.93,350.07 385.00,349.60 385.03,349.11 385.05,349.87 385.14,349.35 385.22,349.41 385.22,349.70 385.35,349.31 385.39,349.23 385.40,349.31 385.50,348.52 385.56,349.21 385.56,348.70 385.73,348.14 385.77,348.20 385.90,347.34 385.98,346.73 386.00,346.70 386.07,346.04 386.18,344.90 386.25,344.76 386.39,341.94 386.42,341.38 386.50,340.37 386.59,338.97 386.60,339.31 386.76,336.23 386.81,335.29 386.93,332.18 387.00,330.22 387.02,330.32 387.10,329.73 387.23,332.82 387.27,334.08 387.43,339.71 387.44,340.15 387.50,341.72 387.61,343.48 387.64,344.65 387.78,346.40 387.85,346.95 387.95,347.26 388.00,347.32 388.06,348.01 388.12,348.53 388.27,348.95 388.30,348.70 388.47,349.53 388.48,349.02 388.50,349.08 388.64,349.59 388.68,349.53 388.81,349.65 388.89,349.56 388.98,350.21 389.00,349.73 389.10,350.15 389.15,350.27 389.50,350.26 390.00,350.48 390.50,350.74 391.00,350.92 391.50,350.80 392.00,350.27 392.50,350.12 393.00,350.33 393.50,350.05 394.00,350.02 394.50,348.98 395.00,348.57 395.50,349.53 396.00,349.28 396.50,348.05 397.00,348.61 397.50,349.20 398.00,348.18 398.50,347.59 399.00,348.09 399.30,348.39 399.50,348.30 399.51,348.20 399.72,348.07 399.93,348.16 400.00,348.13 400.13,347.96 400.25,348.05 400.34,347.93 400.45,348.59 400.50,348.29 400.55,348.27 400.64,348.08 400.76,348.10 400.84,348.00 400.95,347.52 400.97,347.62 401.00,347.84 401.03,347.21 401.15,346.96 401.18,347.21 401.23,346.71 401.34,346.57 401.38,345.95 401.43,346.03 401.50,345.73 401.54,345.41 401.59,345.17 401.62,344.79 401.73,344.21 401.80,343.99 401.82,344.07 401.85,344.67 401.93,343.71 402.00,344.08 402.01,343.60 402.01,343.40 402.05,343.55 402.12,343.56 402.21,343.26 402.22,343.22 402.24,343.20 402.32,342.80 402.40,342.35 402.43,341.75 402.44,341.93 402.50,341.31 402.52,341.48 402.60,340.98 402.63,340.91 402.71,340.54 402.80,340.25 402.83,340.28 402.84,340.44 402.91,340.17 402.99,339.09 403.00,339.45 403.02,339.25 403.05,338.66 403.10,338.27 403.19,337.74 403.22,337.76 403.26,337.02 403.30,337.41 403.38,337.68 403.42,338.08 403.47,338.80 403.50,339.07 403.50,338.73 403.58,339.53 403.61,339.98 403.68,340.70 403.69,340.88 403.77,341.07 403.81,341.42 403.88,341.01 403.89,340.96 403.97,340.53 404.00,340.91 404.00,341.23 404.08,341.16 404.09,341.72 404.17,341.08 404.20,341.04 404.28,341.06 404.30,341.24 404.36,341.61 404.40,341.91 404.48,342.33 404.48,342.20 404.50,342.86 404.56,343.04 404.59,343.40 404.67,343.02 404.67,343.10 404.75,343.42 404.79,343.91 404.85,343.70 404.87,343.81 404.95,343.88 404.98,344.00 405.00,343.89 405.03,344.17 405.06,343.98 405.18,344.53 405.22,344.79 405.26,344.90 405.35,345.30 405.38,345.10 405.40,345.41 405.45,345.43 405.50,345.67 405.52,345.95 405.57,345.49 405.58,345.93 405.65,345.58 405.69,345.63 405.77,346.03 405.86,345.68 405.95,345.28 405.96,345.30 406.00,345.19 406.03,344.58 406.13,344.08 406.16,343.73 406.20,343.48 406.32,342.14 406.35,342.01 406.38,341.66 406.50,340.87 406.55,341.03 406.55,341.15 406.68,342.12 406.72,342.13 406.87,343.10 406.89,343.32 407.00,343.59 407.05,343.20 407.06,342.74 407.23,342.28 407.23,342.11 407.40,341.42 407.42,342.12 407.50,342.15 407.57,343.20 407.60,343.12 407.74,345.18 407.78,345.69 407.91,346.53 407.97,346.75 408.00,347.07 408.08,347.29 408.15,347.79 408.25,347.78 408.25,347.57 408.33,347.44 408.43,347.84 408.45,347.95 408.50,347.80 408.52,347.84 408.60,347.74 408.64,347.88 408.70,348.15 408.77,348.05 408.84,348.03 408.94,347.92 409.00,347.86 409.03,348.03 409.11,348.19 409.23,347.62 409.28,347.81 409.43,347.06 409.45,347.04 409.50,347.37 409.62,346.84 409.82,346.91 410.00,346.99 410.01,346.63 410.21,346.03 410.40,345.75 410.50,344.84 410.60,344.80 410.80,345.43 410.99,346.32 411.00,346.72 411.19,347.27 411.38,347.48 411.50,347.36 411.58,347.06 411.77,346.74 411.97,346.14 412.00,345.77 412.05,345.95 412.17,346.14 412.25,346.92 412.36,347.08 412.44,347.24 412.50,347.23 412.56,347.44 412.64,347.16 412.75,347.34 412.83,347.22 412.95,346.96 413.00,346.66 413.03,346.83 413.23,345.87 413.42,345.92 413.50,346.09 413.62,346.24 413.81,345.99 414.00,345.10 414.01,345.07 414.20,343.77 414.40,342.81 414.50,343.28 414.60,343.71 414.79,345.58 414.99,347.10 415.00,346.39 415.18,347.08 415.38,347.32 415.50,346.87 415.57,346.82 415.77,345.83 415.97,346.64 416.00,347.24 416.16,347.49 416.36,348.35 416.50,348.15 416.55,348.90 416.75,349.39 417.00,349.02 417.40,349.07 417.50,349.02 417.58,349.33 417.77,348.52 417.95,347.85 418.00,348.50 418.13,347.41 418.32,347.26 418.50,346.45 418.68,346.99 418.87,347.11 419.00,346.54 419.05,346.48 419.23,345.58 419.42,343.47 419.50,342.99 419.60,342.89 419.78,343.23 419.80,343.93 419.97,345.70 420.00,345.77 420.03,346.45 420.15,347.14 420.27,347.45 420.33,347.66 420.50,347.88 420.52,347.67 420.70,348.18 420.73,347.98 420.88,347.97 420.90,348.34 420.97,348.03 421.00,348.27 421.07,347.79 421.11,347.90 421.20,347.91 421.25,348.16 421.32,347.75 421.43,347.76 421.50,347.31 421.52,347.44 421.62,347.38 421.67,346.87 421.73,346.71 421.75,346.95 421.80,346.39 421.90,346.32 421.94,346.13 421.95,346.01 422.00,345.94 422.13,345.11 422.14,344.99 422.15,344.57 422.20,344.25 422.34,343.66 422.36,343.10 422.37,343.40 422.43,342.85 422.50,342.32 422.53,342.26 422.57,341.62 422.60,341.95 422.67,342.00 422.73,341.26 422.77,341.51 422.83,341.33 422.90,341.72 422.93,340.75 422.98,340.54 423.00,340.46 423.07,340.04 423.12,339.52 423.13,339.81 423.19,339.15 423.30,338.73 423.32,338.53 423.37,337.93 423.40,337.91 423.50,337.96 423.51,337.56 423.53,337.63 423.60,337.61 423.61,337.31 423.71,337.10 423.77,336.98 423.82,336.49 423.83,335.71 423.90,335.78 424.00,334.64 424.02,334.43 424.07,334.33 424.10,334.77 424.23,335.65 424.30,336.42 424.30,336.33 424.44,338.69 424.47,339.11 424.49,338.93 424.50,339.00 424.53,339.50 424.65,340.65 424.69,340.65 424.70,340.78 424.77,340.91 424.86,341.71 424.88,341.49 424.93,341.74 425.00,342.24 425.07,342.30 425.08,342.41 425.17,343.08 425.23,343.37 425.27,344.08 425.40,344.67 425.47,345.01 425.47,345.07 425.48,344.97 425.50,345.58 425.67,346.55 425.69,346.29 425.70,346.27 425.86,346.55 425.90,347.00 425.93,347.43 426.00,347.26 426.06,347.77 426.17,348.16 426.25,347.44 426.40,348.19 426.45,348.18 426.50,348.28 426.63,348.18 426.87,348.76 427.00,348.67 427.10,349.24 427.33,349.47 427.50,348.95 427.57,348.97 427.80,349.28 428.00,349.42 428.50,349.53 429.00,349.69 429.50,348.96 429.60,349.07 429.76,348.93 429.92,348.71 430.00,348.40 430.07,348.34 430.23,347.81 430.39,347.54 430.50,346.51 430.55,345.77 430.71,344.75 430.87,341.95 431.00,337.92 431.02,336.94 431.18,328.23 431.34,314.15 431.50,303.49 431.66,314.04 431.82,328.51 431.98,336.97 432.00,338.11 432.13,341.65 432.29,343.80 432.45,345.88 432.50,346.25 432.61,347.21 432.77,347.78 432.93,348.29 433.00,348.33 433.08,348.60 433.24,348.71 433.40,348.71 433.50,348.89 434.00,348.81 434.50,349.37 435.00,349.03 435.50,348.51 436.00,348.88 436.50,349.56 437.00,350.07 437.50,349.80 437.80,350.11 437.96,349.17 438.00,349.37 438.12,349.54 438.27,349.51 438.43,348.83 438.50,349.14 438.59,348.59 438.75,347.52 438.91,346.52 439.00,345.67 439.07,344.41 439.23,341.48 439.38,334.96 439.50,327.83 439.54,324.90 439.70,317.40 439.86,324.94 440.00,333.71 440.02,335.18 440.18,340.84 440.33,344.90 440.49,346.46 440.50,346.93 440.65,348.05 440.81,348.46 440.97,348.85 441.00,349.37 441.12,349.10 441.28,349.79 441.44,349.78 441.50,349.79 441.60,349.83 442.00,350.61 442.50,350.03 443.00,350.36 443.50,350.64 444.00,350.80 444.50,350.96 445.00,350.89 445.50,350.45 446.00,350.62 446.50,350.76 447.00,350.57 447.50,350.02 448.00,350.32 448.50,350.19 449.00,349.46 449.25,349.43 449.42,349.32 449.50,349.36 449.59,349.42 449.76,349.02 449.93,348.43 450.00,348.17 450.10,347.66 450.27,346.76 450.45,345.56 450.50,345.02 450.55,344.71 450.62,344.05 450.72,341.83 450.79,340.36 450.89,337.06 450.96,334.31 451.00,332.55 451.06,329.27 451.13,325.30 451.23,320.39 451.30,319.34 451.40,321.13 451.47,324.29 451.50,325.91 451.57,329.27 451.64,331.61 451.75,335.24 451.81,336.07 451.92,337.00 451.98,337.01 452.00,337.47 452.09,336.07 452.15,335.37 452.26,332.61 452.32,330.06 452.43,325.16 452.50,322.46 452.50,322.37 452.60,320.22 452.67,321.72 452.75,325.11 452.77,325.74 452.84,329.13 452.94,333.71 452.95,334.35 453.00,335.81 453.01,336.20 453.11,338.69 453.14,339.98 453.18,340.33 453.28,341.89 453.34,342.73 453.35,342.64 453.45,342.92 453.50,343.46 453.53,343.63 453.62,343.44 453.73,343.37 453.80,343.23 453.93,343.07 453.97,342.65 454.00,342.17 454.12,341.41 454.14,341.23 454.31,338.26 454.32,337.92 454.48,334.39 454.50,334.02 454.51,333.33 454.65,327.50 454.71,324.26 454.90,311.95 455.00,307.10 455.10,305.15 455.30,312.27 455.49,324.88 455.50,325.13 455.69,333.88 455.88,338.68 456.00,341.30 456.08,342.83 456.27,345.01 456.47,346.31 456.50,346.74 456.67,347.36 456.86,348.06 457.00,348.09 457.06,348.52 457.25,348.99 457.45,349.42 457.50,349.46 458.00,349.72 458.50,350.07 459.00,349.98 459.50,350.52 460.00,350.25 460.50,350.51 461.00,350.63 461.50,351.11 462.00,351.00 462.50,350.58 463.00,350.46 463.50,350.75 464.00,350.64 464.50,350.92 465.00,350.92 465.50,351.00 466.00,350.65 466.50,350.80 467.00,350.93 467.50,350.96 468.00,350.77 468.50,350.83 469.00,351.09 469.50,350.54 470.00,350.86 470.50,350.92 471.00,350.60 471.50,350.70 472.00,350.95 472.50,350.82 473.00,351.17 473.50,351.08 474.00,351.44 474.50,350.68 475.00,351.37 475.50,350.80 476.00,351.13 476.50,351.17 477.00,351.00 477.50,350.90 478.00,350.82 478.50,350.57 479.00,350.88 479.50,350.77 480.00,351.09 480.50,350.81 481.00,350.93 481.50,351.07 482.00,350.99 482.50,350.98 483.00,350.93 483.50,350.88 484.00,351.08 484.50,351.13 485.00,350.81 485.50,351.35 486.00,351.11 486.50,350.63 487.00,351.57 487.50,351.13 488.00,350.82 488.50,351.34 489.00,350.40 489.50,351.55 490.00,350.66 490.50,350.64 491.00,350.78 491.50,351.03 492.00,350.90"/>
<polyline class="sp" stroke="#6a6a6a" stroke-width="0.9" points="297.75,339.96 297.99,336.85 298.00,337.35 298.23,333.72 298.47,327.85 298.50,327.32 298.71,319.95 298.95,308.07 299.00,304.82 299.19,289.18 299.42,260.25 299.50,249.09 299.66,225.49 299.90,206.99 300.00,210.67 300.14,225.62 300.38,260.08 300.50,276.61 300.62,289.41 300.85,308.24 301.00,316.07 301.09,320.14 301.33,328.18 301.50,332.29 301.57,333.45 301.81,337.54 302.00,339.68 302.05,339.64 302.28,341.90"/>
<line x1="455.35" y1="306" x2="455.35" y2="266" stroke="#7a7a7a" stroke-width="1.1"/>
<line x1="132.4" y1="23.6" x2="234.7" y2="23.6" class="ds" stroke-dashoffset="0"/><line x1="132.4" y1="23.6" x2="132.4" y2="362.5" class="ds" stroke-dashoffset="0"/><line x1="234.7" y1="23.6" x2="234.7" y2="362.5" class="ds" stroke-dashoffset="0"/><line x1="132.4" y1="362.5" x2="234.7" y2="362.5" class="ds" stroke-dashoffset="0"/>
<line x1="293.6" y1="23.8" x2="306.4" y2="23.8" class="ds" stroke-dashoffset="0"/><line x1="293.6" y1="23.8" x2="293.6" y2="362.6" class="ds" stroke-dashoffset="0"/><line x1="306.4" y1="23.8" x2="306.4" y2="362.6" class="ds" stroke-dashoffset="-1.2"/><line x1="293.6" y1="362.6" x2="306.4" y2="362.6" class="ds" stroke-dashoffset="0"/>
<text x="145.2" y="43.2" class="sm">range of interest</text>
<text x="269.2" y="43.1" class="sm">HDO</text>
<text x="372.3" y="69.1" class="lb">intact protein</text>
<text x="381.7" y="241.6" class="lb">hydrolysate</text>
<text x="214.2" y="391.6" class="lb">chemical shift (ppm)</text>
<text transform="translate(19.5,238.6) rotate(-90)" class="lb">intensity</text>
</svg>
</body></html>
